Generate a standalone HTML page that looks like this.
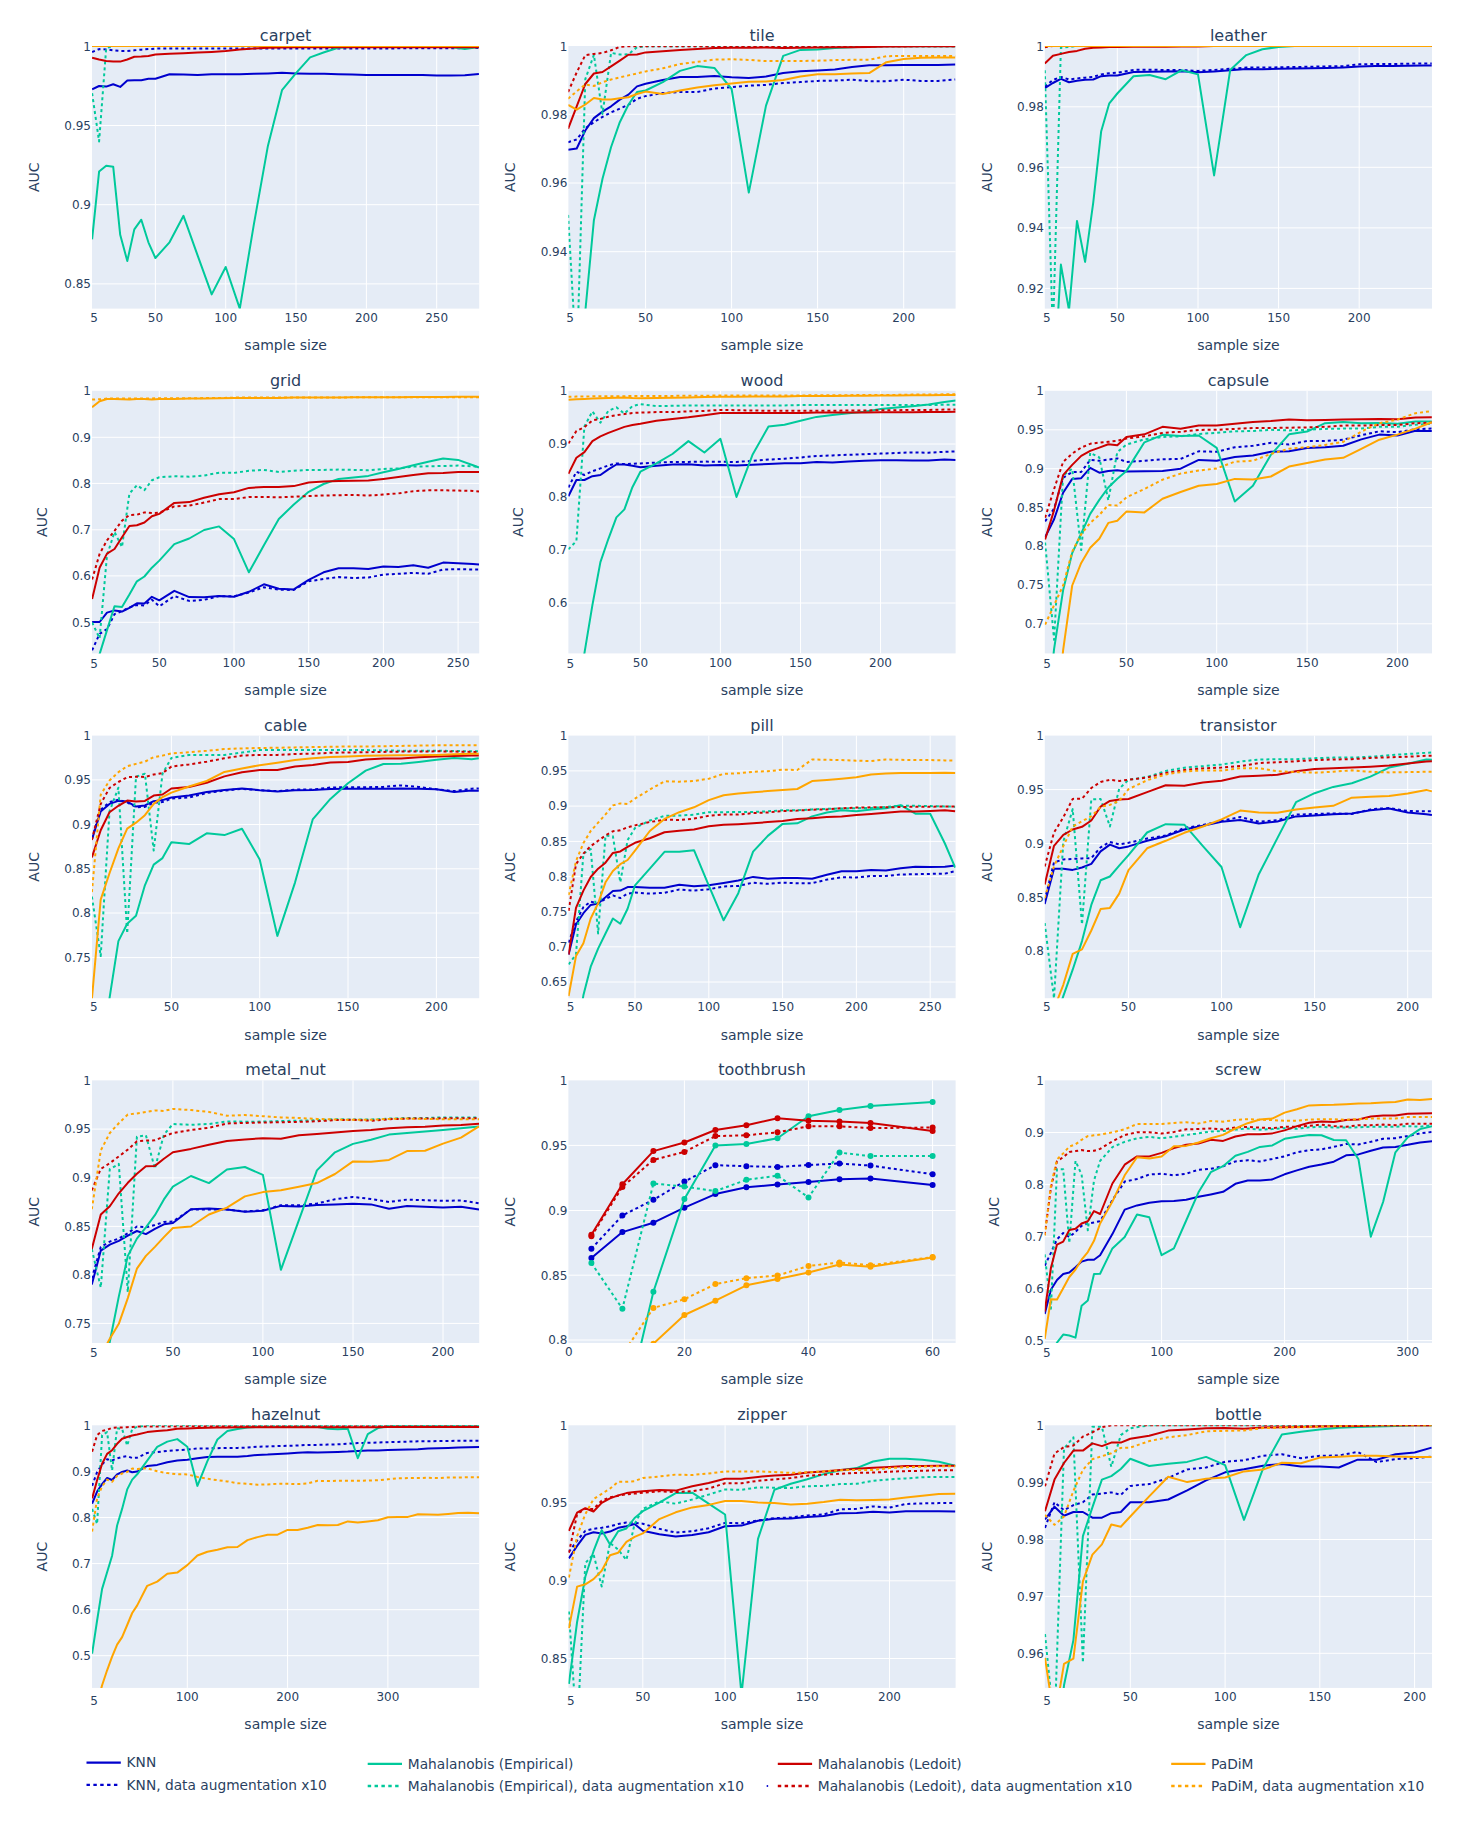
<!DOCTYPE html>
<html><head><meta charset="utf-8"><title>AUC vs sample size</title>
<style>
html,body{margin:0;padding:0;background:#fff;overflow:hidden}
svg{display:block}
text{font-family:"DejaVu Sans","Liberation Sans",sans-serif;fill:#2a3f5f}
.t{font-size:12px}
.a{font-size:14px}
.h{font-size:16px}
.l{font-size:13.75px}
.g{stroke:#fff;stroke-width:1}
.c{fill:none;stroke-width:2;stroke-linejoin:round}
.d{stroke-dasharray:3 3}
</style></head><body>
<svg width="1461" height="1824" viewBox="0 0 1461 1824">
<rect width="1461" height="1824" fill="#fff"/>
<g>
<clipPath id="p0"><rect x="92.0" y="46.0" width="387.2" height="262.6"/></clipPath>
<rect x="92.0" y="46.0" width="387.2" height="262.6" fill="#E5ECF6"/>
<line class="g" x1="155.4" y1="46.0" x2="155.4" y2="308.6"/>
<line class="g" x1="225.7" y1="46.0" x2="225.7" y2="308.6"/>
<line class="g" x1="296.0" y1="46.0" x2="296.0" y2="308.6"/>
<line class="g" x1="366.4" y1="46.0" x2="366.4" y2="308.6"/>
<line class="g" x1="436.7" y1="46.0" x2="436.7" y2="308.6"/>
<line class="g" x1="92.0" y1="125.5" x2="479.2" y2="125.5"/>
<line class="g" x1="92.0" y1="204.7" x2="479.2" y2="204.7"/>
<line class="g" x1="92.0" y1="283.9" x2="479.2" y2="283.9"/>
<g clip-path="url(#p0)">
<polyline class="c" stroke="#0000CD" points="92.1,89.3 99.1,86.0 106.2,86.6 113.2,84.2 120.2,86.9 127.3,80.6 134.3,80.3 141.3,80.3 148.4,78.8 155.4,78.8 169.5,74.3 183.5,74.6 197.6,74.9 211.7,74.3 225.7,74.3 239.8,74.3 253.9,73.7 267.9,73.4 282.0,72.8 296.0,73.4 310.1,73.7 324.2,73.7 338.2,74.3 352.3,74.6 366.4,74.9 380.4,74.9 394.5,74.9 408.6,74.9 422.6,74.9 436.7,75.5 450.8,75.5 464.8,75.2 478.9,74.0"/>
<polyline class="c d" stroke="#0000CD" points="92.1,52.1 99.1,49.1 106.2,49.4 113.2,50.3 120.2,51.0 127.3,50.9 134.3,50.3 141.3,49.7 148.4,49.1 155.4,48.6 169.5,48.5 183.5,48.5 197.6,48.5 211.7,48.5 225.7,48.5 239.8,48.5 253.9,48.5 267.9,48.5 282.0,48.5 296.0,48.5 310.1,48.5 324.2,48.5 338.2,48.4 352.3,48.4 366.4,48.4 380.4,48.4 394.5,48.4 408.6,48.2 422.6,48.2 436.7,48.2 450.8,48.2 464.8,48.1 478.9,48.1"/>
<polyline class="c" stroke="#00C99B" points="92.1,239.3 99.1,171.5 106.2,165.8 113.2,166.7 120.2,234.8 127.3,261.0 134.3,229.4 141.3,219.7 148.4,242.3 155.4,258.0 169.5,242.3 183.5,215.8 197.6,255.3 211.7,294.4 225.7,267.0 239.8,308.6 253.9,224.2 267.9,145.9 282.0,90.2 296.0,73.1 310.1,57.4 324.2,52.3 338.2,47.8 352.3,46.9 366.4,46.0 380.4,46.0 394.5,46.0 408.6,46.0 422.6,46.0 436.7,46.0 450.8,46.9 464.8,49.0 478.9,46.9"/>
<polyline class="c d" stroke="#00C99B" points="92.1,93.2 99.1,141.4 106.2,48.1 113.2,46.0 120.2,46.0 127.3,46.0 134.3,46.0 141.3,46.0 148.4,46.0 155.4,46.0 169.5,46.0 183.5,46.0 197.6,46.0 211.7,46.0 225.7,46.0 239.8,46.0 253.9,46.0 267.9,46.0 282.0,46.0 296.0,46.0 310.1,46.0 324.2,46.0 338.2,46.0 352.3,46.0 366.4,46.0 380.4,46.0 394.5,46.0 408.6,46.0 422.6,46.0 436.7,46.0 450.8,46.0 464.8,46.0 478.9,46.0"/>
<polyline class="c" stroke="#CC0000" points="92.1,57.7 99.1,59.5 106.2,61.0 113.2,61.6 120.2,61.6 127.3,59.5 134.3,56.8 141.3,56.5 148.4,55.9 155.4,54.4 169.5,53.8 183.5,53.2 197.6,52.6 211.7,52.0 225.7,51.1 239.8,49.6 253.9,48.4 267.9,47.8 282.0,47.5 296.0,47.2 310.1,47.2 324.2,47.2 338.2,47.2 352.3,47.2 366.4,47.2 380.4,47.2 394.5,47.2 408.6,47.2 422.6,47.2 436.7,47.2 450.8,47.2 464.8,47.2 478.9,47.2"/>
<polyline class="c d" stroke="#CC0000" points="92.1,46.0 99.1,46.0 106.2,46.0 113.2,46.0 120.2,46.0 127.3,46.0 134.3,46.0 141.3,46.0 148.4,46.0 155.4,46.0 169.5,46.0 183.5,46.0 197.6,46.0 211.7,46.0 225.7,46.0 239.8,46.0 253.9,46.0 267.9,46.0 282.0,46.0 296.0,46.0 310.1,46.0 324.2,46.0 338.2,46.0 352.3,46.0 366.4,46.0 380.4,46.0 394.5,46.0 408.6,46.0 422.6,46.0 436.7,46.0 450.8,46.0 464.8,46.0 478.9,46.0"/>
<polyline class="c" stroke="#FFA500" points="92.1,46.0 99.1,46.0 106.2,46.0 113.2,46.0 120.2,46.0 127.3,46.0 134.3,46.0 141.3,46.0 148.4,46.0 155.4,46.0 169.5,46.0 183.5,46.0 197.6,46.0 211.7,46.0 225.7,46.0 239.8,46.0 253.9,46.0 267.9,46.0 282.0,46.0 296.0,46.0 310.1,46.0 324.2,46.0 338.2,46.0 352.3,46.0 366.4,46.0 380.4,46.0 394.5,46.0 408.6,46.0 422.6,46.0 436.7,46.0 450.8,46.0 464.8,46.0 478.9,46.0"/>
<polyline class="c d" stroke="#FFA500" points="92.1,46.0 99.1,46.0 106.2,46.0 113.2,46.0 120.2,46.0 127.3,46.0 134.3,46.0 141.3,46.0 148.4,46.0 155.4,46.0 169.5,46.0 183.5,46.0 197.6,46.0 211.7,46.0 225.7,46.0 239.8,46.0 253.9,46.0 267.9,46.0 282.0,46.0 296.0,46.0 310.1,46.0 324.2,46.0 338.2,46.0 352.3,46.0 366.4,46.0 380.4,46.0 394.5,46.0 408.6,46.0 422.6,46.0 436.7,46.0 450.8,46.0 464.8,46.0 478.9,46.0"/>
</g>
<text class="t" x="94.1" y="322.3" text-anchor="middle">5</text>
<text class="t" x="155.4" y="322.3" text-anchor="middle">50</text>
<text class="t" x="225.7" y="322.3" text-anchor="middle">100</text>
<text class="t" x="296.0" y="322.3" text-anchor="middle">150</text>
<text class="t" x="366.4" y="322.3" text-anchor="middle">200</text>
<text class="t" x="436.7" y="322.3" text-anchor="middle">250</text>
<text class="t" x="91.0" y="50.5" text-anchor="end">1</text>
<text class="t" x="91.0" y="129.8" text-anchor="end">0.95</text>
<text class="t" x="91.0" y="209.0" text-anchor="end">0.9</text>
<text class="t" x="91.0" y="288.2" text-anchor="end">0.85</text>
<text class="h" x="285.6" y="40.9" text-anchor="middle">carpet</text>
<text class="a" x="285.6" y="349.9" text-anchor="middle">sample size</text>
<text class="a" transform="translate(39.0,177.3) rotate(-90)" text-anchor="middle">AUC</text>
</g>
<g>
<clipPath id="p1"><rect x="568.4" y="46.0" width="387.2" height="262.6"/></clipPath>
<rect x="568.4" y="46.0" width="387.2" height="262.6" fill="#E5ECF6"/>
<line class="g" x1="645.6" y1="46.0" x2="645.6" y2="308.6"/>
<line class="g" x1="731.6" y1="46.0" x2="731.6" y2="308.6"/>
<line class="g" x1="817.6" y1="46.0" x2="817.6" y2="308.6"/>
<line class="g" x1="903.7" y1="46.0" x2="903.7" y2="308.6"/>
<line class="g" x1="568.4" y1="114.3" x2="955.6" y2="114.3"/>
<line class="g" x1="568.4" y1="183.0" x2="955.6" y2="183.0"/>
<line class="g" x1="568.4" y1="251.7" x2="955.6" y2="251.7"/>
<g clip-path="url(#p1)">
<polyline class="c" stroke="#0000CD" points="568.1,149.8 576.7,148.5 585.3,130.5 593.9,118.1 602.5,111.6 611.1,106.3 619.8,99.6 628.4,94.6 637.0,86.4 645.6,83.7 662.8,80.0 680.0,76.9 697.2,76.9 714.4,75.9 731.6,77.2 748.8,78.0 766.0,76.6 783.2,73.1 800.4,71.3 817.6,70.4 834.8,69.5 852.0,67.0 869.2,65.2 886.4,65.2 903.7,64.9 920.9,64.9 938.1,64.9 955.3,64.6"/>
<polyline class="c d" stroke="#0000CD" points="568.1,142.2 576.7,139.5 585.3,128.2 593.9,122.2 602.5,116.9 611.1,112.4 619.8,108.6 628.4,104.8 637.0,98.8 645.6,96.1 662.8,93.1 680.0,92.0 697.2,92.0 714.4,88.5 731.6,87.0 748.8,85.7 766.0,84.9 783.2,83.0 800.4,82.1 817.6,80.9 834.8,80.6 852.0,79.7 869.2,81.2 886.4,81.2 903.7,79.7 920.9,80.9 938.1,80.9 955.3,79.4"/>
<polyline class="c" stroke="#00C99B" points="568.1,552.6 576.7,432.0 585.3,311.4 593.9,220.2 602.5,178.7 611.1,147.0 619.8,122.2 628.4,104.8 637.0,92.0 645.6,90.5 662.8,82.2 680.0,70.9 697.2,66.1 714.4,67.9 731.6,89.0 748.8,192.6 766.0,105.6 783.2,55.9 800.4,49.9 817.6,49.6 834.8,48.1 852.0,47.2 869.2,46.6 886.4,46.3 903.7,46.3 920.9,46.3 938.1,46.3 955.3,46.3"/>
<polyline class="c d" stroke="#00C99B" points="568.1,214.9 576.7,366.4 585.3,79.2 593.9,54.8 602.5,113.9 611.1,52.8 619.8,54.6 628.4,54.3 637.0,47.2 645.6,46.3 662.8,46.3 680.0,46.3 697.2,46.3 714.4,46.3 731.6,46.3 748.8,46.3 766.0,46.3 783.2,46.3 800.4,46.3 817.6,46.3 834.8,46.3 852.0,46.3 869.2,46.3 886.4,46.3 903.7,46.3 920.9,46.3 938.1,46.3 955.3,46.3"/>
<polyline class="c" stroke="#CC0000" points="568.1,128.9 576.7,106.3 585.3,84.0 593.9,73.5 602.5,72.0 611.1,66.4 619.8,60.7 628.4,54.8 637.0,54.5 645.6,52.4 662.8,51.3 680.0,50.1 697.2,49.0 714.4,48.1 731.6,47.8 748.8,47.7 766.0,47.5 783.2,48.1 800.4,47.8 817.6,47.5 834.8,47.2 852.0,47.2 869.2,46.9 886.4,46.6 903.7,46.6 920.9,46.3 938.1,46.3 955.3,46.3"/>
<polyline class="c d" stroke="#CC0000" points="568.1,92.0 576.7,72.4 585.3,55.1 593.9,53.9 602.5,53.0 611.1,50.3 619.8,46.8 628.4,46.3 637.0,46.3 645.6,46.3 662.8,46.3 680.0,46.3 697.2,46.3 714.4,46.3 731.6,46.3 748.8,46.3 766.0,46.3 783.2,46.3 800.4,46.3 817.6,46.3 834.8,46.3 852.0,46.3 869.2,46.3 886.4,46.3 903.7,46.3 920.9,46.3 938.1,46.3 955.3,46.3"/>
<polyline class="c" stroke="#FFA500" points="568.1,104.8 576.7,109.7 585.3,104.5 593.9,98.0 602.5,99.6 611.1,99.6 619.8,98.3 628.4,97.3 637.0,94.0 645.6,91.6 662.8,94.0 680.0,90.5 697.2,87.5 714.4,85.2 731.6,83.4 748.8,81.8 766.0,81.5 783.2,80.0 800.4,76.4 817.6,74.3 834.8,74.3 852.0,73.4 869.2,73.1 886.4,62.2 903.7,58.9 920.9,57.7 938.1,57.4 955.3,57.4"/>
<polyline class="c d" stroke="#FFA500" points="568.1,98.8 576.7,91.3 585.3,84.5 593.9,86.0 602.5,82.2 611.1,79.5 619.8,77.4 628.4,75.4 637.0,73.5 645.6,71.4 662.8,68.3 680.0,64.1 697.2,61.9 714.4,59.6 731.6,59.3 748.8,59.9 766.0,61.1 783.2,61.0 800.4,61.0 817.6,60.7 834.8,60.1 852.0,59.8 869.2,59.8 886.4,56.2 903.7,55.9 920.9,55.9 938.1,55.9 955.3,55.9"/>
</g>
<text class="t" x="570.1" y="322.3" text-anchor="middle">5</text>
<text class="t" x="645.6" y="322.3" text-anchor="middle">50</text>
<text class="t" x="731.6" y="322.3" text-anchor="middle">100</text>
<text class="t" x="817.6" y="322.3" text-anchor="middle">150</text>
<text class="t" x="903.7" y="322.3" text-anchor="middle">200</text>
<text class="t" x="567.4" y="50.5" text-anchor="end">1</text>
<text class="t" x="567.4" y="118.6" text-anchor="end">0.98</text>
<text class="t" x="567.4" y="187.3" text-anchor="end">0.96</text>
<text class="t" x="567.4" y="256.0" text-anchor="end">0.94</text>
<text class="h" x="762.0" y="40.9" text-anchor="middle">tile</text>
<text class="a" x="762.0" y="349.9" text-anchor="middle">sample size</text>
<text class="a" transform="translate(515.4,177.3) rotate(-90)" text-anchor="middle">AUC</text>
</g>
<g>
<clipPath id="p2"><rect x="1044.8" y="46.0" width="387.2" height="262.6"/></clipPath>
<rect x="1044.8" y="46.0" width="387.2" height="262.6" fill="#E5ECF6"/>
<line class="g" x1="1117.3" y1="46.0" x2="1117.3" y2="308.6"/>
<line class="g" x1="1198.0" y1="46.0" x2="1198.0" y2="308.6"/>
<line class="g" x1="1278.6" y1="46.0" x2="1278.6" y2="308.6"/>
<line class="g" x1="1359.2" y1="46.0" x2="1359.2" y2="308.6"/>
<line class="g" x1="1044.8" y1="106.8" x2="1432.0" y2="106.8"/>
<line class="g" x1="1044.8" y1="167.3" x2="1432.0" y2="167.3"/>
<line class="g" x1="1044.8" y1="227.9" x2="1432.0" y2="227.9"/>
<line class="g" x1="1044.8" y1="288.4" x2="1432.0" y2="288.4"/>
<g clip-path="url(#p2)">
<polyline class="c" stroke="#0000CD" points="1044.8,88.2 1052.9,83.0 1060.9,78.9 1069.0,82.2 1077.0,80.7 1085.1,79.7 1093.2,79.5 1101.2,76.2 1109.3,75.4 1117.3,75.6 1133.5,72.1 1149.6,71.7 1165.7,71.4 1181.8,71.2 1198.0,72.3 1214.1,71.4 1230.2,70.2 1246.3,69.1 1262.4,69.2 1278.6,68.8 1294.7,68.5 1310.8,68.2 1326.9,67.9 1343.1,67.6 1359.2,66.4 1375.3,66.1 1391.4,66.1 1407.5,65.8 1423.7,65.5 1431.7,65.5"/>
<polyline class="c d" stroke="#0000CD" points="1044.8,86.7 1052.9,80.0 1060.9,76.9 1069.0,79.5 1077.0,78.4 1085.1,77.7 1093.2,76.9 1101.2,74.4 1109.3,73.2 1117.3,72.7 1133.5,69.9 1149.6,69.7 1165.7,70.0 1181.8,70.0 1198.0,70.9 1214.1,69.9 1230.2,68.8 1246.3,67.6 1262.4,67.6 1278.6,67.3 1294.7,67.0 1310.8,66.7 1326.9,66.4 1343.1,66.1 1359.2,64.3 1375.3,64.0 1391.4,64.0 1407.5,63.7 1423.7,63.4 1431.7,63.4"/>
<polyline class="c" stroke="#00C99B" points="1044.8,537.5 1052.9,403.0 1060.9,264.6 1069.0,310.2 1077.0,220.9 1085.1,261.9 1093.2,202.8 1101.2,131.2 1109.3,103.3 1117.3,93.5 1133.5,76.2 1149.6,75.0 1165.7,79.2 1181.8,70.2 1198.0,74.4 1214.1,175.4 1230.2,69.9 1246.3,55.1 1262.4,49.3 1278.6,46.9 1294.7,46.0 1310.8,46.0 1326.9,46.0 1343.1,46.0 1359.2,46.0 1375.3,46.0 1391.4,46.0 1407.5,46.0 1423.7,46.0 1431.7,46.0"/>
<polyline class="c d" stroke="#00C99B" points="1044.8,70.2 1052.9,335.5 1060.9,47.5 1069.0,46.9 1077.0,46.0 1085.1,46.0 1093.2,46.0 1101.2,46.0 1109.3,46.0 1117.3,46.0 1133.5,46.0 1149.6,46.0 1165.7,46.0 1181.8,46.0 1198.0,46.0 1214.1,46.0 1230.2,46.0 1246.3,46.0 1262.4,46.0 1278.6,46.0 1294.7,46.0 1310.8,46.0 1326.9,46.0 1343.1,46.0 1359.2,46.0 1375.3,46.0 1391.4,46.0 1407.5,46.0 1423.7,46.0 1431.7,46.0"/>
<polyline class="c" stroke="#CC0000" points="1044.8,63.4 1052.9,55.8 1060.9,53.9 1069.0,52.1 1077.0,50.9 1085.1,48.7 1093.2,47.8 1101.2,47.4 1109.3,47.1 1117.3,46.9 1133.5,46.8 1149.6,46.8 1165.7,46.8 1181.8,46.6 1198.0,46.5 1214.1,46.0 1230.2,46.0 1246.3,46.0 1262.4,46.0 1278.6,46.0 1294.7,46.0 1310.8,46.0 1326.9,46.0 1343.1,46.0 1359.2,46.0 1375.3,46.0 1391.4,46.0 1407.5,46.0 1423.7,46.0 1431.7,46.0"/>
<polyline class="c d" stroke="#CC0000" points="1044.8,47.2 1052.9,46.0 1060.9,46.0 1069.0,46.0 1077.0,46.0 1085.1,46.0 1093.2,46.0 1101.2,46.0 1109.3,46.0 1117.3,46.0 1133.5,46.0 1149.6,46.0 1165.7,46.0 1181.8,46.0 1198.0,46.0 1214.1,46.0 1230.2,46.0 1246.3,46.0 1262.4,46.0 1278.6,46.0 1294.7,46.0 1310.8,46.0 1326.9,46.0 1343.1,46.0 1359.2,46.0 1375.3,46.0 1391.4,46.0 1407.5,46.0 1423.7,46.0 1431.7,46.0"/>
<polyline class="c" stroke="#FFA500" points="1044.8,46.0 1052.9,46.0 1060.9,46.0 1069.0,46.0 1077.0,46.0 1085.1,46.0 1093.2,46.0 1101.2,46.0 1109.3,46.0 1117.3,46.0 1133.5,46.0 1149.6,46.0 1165.7,46.0 1181.8,46.0 1198.0,46.0 1214.1,46.0 1230.2,46.0 1246.3,46.0 1262.4,46.0 1278.6,46.0 1294.7,46.0 1310.8,46.0 1326.9,46.0 1343.1,46.0 1359.2,46.0 1375.3,46.0 1391.4,46.0 1407.5,46.0 1423.7,46.0 1431.7,46.0"/>
<polyline class="c d" stroke="#FFA500" points="1044.8,46.0 1052.9,46.0 1060.9,46.0 1069.0,46.0 1077.0,46.0 1085.1,46.0 1093.2,46.0 1101.2,46.0 1109.3,46.0 1117.3,46.0 1133.5,46.0 1149.6,46.0 1165.7,46.0 1181.8,46.0 1198.0,46.0 1214.1,46.0 1230.2,46.0 1246.3,46.0 1262.4,46.0 1278.6,46.0 1294.7,46.0 1310.8,46.0 1326.9,46.0 1343.1,46.0 1359.2,46.0 1375.3,46.0 1391.4,46.0 1407.5,46.0 1423.7,46.0 1431.7,46.0"/>
</g>
<text class="t" x="1046.8" y="322.3" text-anchor="middle">5</text>
<text class="t" x="1117.3" y="322.3" text-anchor="middle">50</text>
<text class="t" x="1198.0" y="322.3" text-anchor="middle">100</text>
<text class="t" x="1278.6" y="322.3" text-anchor="middle">150</text>
<text class="t" x="1359.2" y="322.3" text-anchor="middle">200</text>
<text class="t" x="1043.8" y="50.5" text-anchor="end">1</text>
<text class="t" x="1043.8" y="111.1" text-anchor="end">0.98</text>
<text class="t" x="1043.8" y="171.6" text-anchor="end">0.96</text>
<text class="t" x="1043.8" y="232.2" text-anchor="end">0.94</text>
<text class="t" x="1043.8" y="292.7" text-anchor="end">0.92</text>
<text class="h" x="1238.4" y="40.9" text-anchor="middle">leather</text>
<text class="a" x="1238.4" y="349.9" text-anchor="middle">sample size</text>
<text class="a" transform="translate(991.8,177.3) rotate(-90)" text-anchor="middle">AUC</text>
</g>
<g>
<clipPath id="p3"><rect x="92.0" y="390.8" width="387.2" height="262.6"/></clipPath>
<rect x="92.0" y="390.8" width="387.2" height="262.6" fill="#E5ECF6"/>
<line class="g" x1="159.3" y1="390.8" x2="159.3" y2="653.4"/>
<line class="g" x1="234.0" y1="390.8" x2="234.0" y2="653.4"/>
<line class="g" x1="308.7" y1="390.8" x2="308.7" y2="653.4"/>
<line class="g" x1="383.4" y1="390.8" x2="383.4" y2="653.4"/>
<line class="g" x1="458.1" y1="390.8" x2="458.1" y2="653.4"/>
<line class="g" x1="92.0" y1="437.3" x2="479.2" y2="437.3"/>
<line class="g" x1="92.0" y1="483.4" x2="479.2" y2="483.4"/>
<line class="g" x1="92.0" y1="529.8" x2="479.2" y2="529.8"/>
<line class="g" x1="92.0" y1="575.9" x2="479.2" y2="575.9"/>
<line class="g" x1="92.0" y1="622.3" x2="479.2" y2="622.3"/>
<g clip-path="url(#p3)">
<polyline class="c" stroke="#0000CD" points="92.1,622.0 99.6,622.0 107.0,612.6 114.5,610.4 122.0,611.6 129.4,607.8 136.9,603.3 144.4,603.6 151.9,596.8 159.3,600.3 174.3,590.8 189.2,597.1 204.1,597.3 219.1,596.1 234.0,596.7 248.9,591.8 263.9,584.3 278.8,588.8 293.8,589.4 308.7,579.8 323.6,572.3 338.6,568.3 353.5,568.3 368.4,568.9 383.4,566.5 398.3,567.1 413.3,565.3 428.2,567.7 443.1,562.6 458.1,563.2 473.0,564.1 479.0,564.4"/>
<polyline class="c d" stroke="#0000CD" points="92.1,650.3 99.6,633.8 107.0,629.2 114.5,614.2 122.0,611.1 129.4,607.4 136.9,605.1 144.4,605.4 151.9,599.8 159.3,606.3 174.3,596.1 189.2,600.9 204.1,599.8 219.1,596.1 234.0,596.4 248.9,592.4 263.9,587.3 278.8,589.7 293.8,590.0 308.7,581.3 323.6,578.9 338.6,577.1 353.5,578.0 368.4,577.4 383.4,574.7 398.3,573.8 413.3,572.9 428.2,573.8 443.1,569.5 458.1,569.2 473.0,569.5 479.0,569.5"/>
<polyline class="c" stroke="#00C99B" points="92.1,686.5 99.6,654.1 107.0,630.1 114.5,606.3 122.0,606.9 129.4,594.6 136.9,581.3 144.4,576.5 151.9,567.7 159.3,560.6 174.3,544.1 189.2,538.5 204.1,530.0 219.1,526.4 234.0,539.1 248.9,572.3 263.9,545.2 278.8,519.0 293.8,504.5 308.7,491.8 323.6,484.0 338.6,478.9 353.5,477.4 368.4,475.9 383.4,472.3 398.3,469.0 413.3,465.3 428.2,461.7 443.1,458.4 458.1,459.9 473.0,465.3 479.0,467.5"/>
<polyline class="c d" stroke="#00C99B" points="92.1,622.4 99.6,638.3 107.0,555.4 114.5,532.0 122.0,547.1 129.4,493.5 136.9,485.3 144.4,490.2 151.9,480.3 159.3,477.3 174.3,476.2 189.2,476.7 204.1,475.5 219.1,472.7 234.0,472.9 248.9,470.8 263.9,469.9 278.8,472.0 293.8,470.8 308.7,469.9 323.6,469.9 338.6,469.6 353.5,469.9 368.4,470.2 383.4,469.0 398.3,468.4 413.3,466.6 428.2,466.3 443.1,466.0 458.1,465.6 473.0,466.3 479.0,466.9"/>
<polyline class="c" stroke="#CC0000" points="92.1,599.1 99.6,567.7 107.0,553.6 114.5,549.0 122.0,537.3 129.4,526.0 136.9,525.2 144.4,522.5 151.9,516.2 159.3,513.9 174.3,502.9 189.2,502.1 204.1,497.8 219.1,494.3 234.0,492.2 248.9,487.9 263.9,487.0 278.8,487.0 293.8,486.1 308.7,482.5 323.6,481.6 338.6,481.0 353.5,480.7 368.4,480.4 383.4,478.9 398.3,477.1 413.3,475.0 428.2,473.2 443.1,472.9 458.1,472.0 473.0,472.0 479.0,472.0"/>
<polyline class="c d" stroke="#CC0000" points="92.1,579.5 99.6,553.9 107.0,540.3 114.5,530.9 122.0,520.7 129.4,515.0 136.9,514.7 144.4,512.4 151.9,513.1 159.3,512.8 174.3,506.4 189.2,505.6 204.1,502.6 219.1,499.1 234.0,499.1 248.9,497.0 263.9,497.0 278.8,497.3 293.8,496.7 308.7,496.1 323.6,495.5 338.6,495.2 353.5,494.9 368.4,495.5 383.4,494.6 398.3,493.4 413.3,491.2 428.2,490.3 443.1,490.3 458.1,490.6 473.0,490.9 479.0,491.5"/>
<polyline class="c" stroke="#FFA500" points="92.1,407.3 99.6,401.3 107.0,399.0 114.5,399.0 122.0,399.3 129.4,399.6 136.9,399.0 144.4,399.0 151.9,399.5 159.3,399.0 174.3,398.9 189.2,398.6 204.1,398.4 219.1,398.3 234.0,397.9 248.9,397.9 263.9,397.9 278.8,397.9 293.8,397.6 308.7,397.6 323.6,397.6 338.6,397.6 353.5,397.3 368.4,397.3 383.4,397.3 398.3,397.3 413.3,397.0 428.2,397.0 443.1,397.0 458.1,396.7 473.0,396.7 479.0,396.7"/>
<polyline class="c d" stroke="#FFA500" points="92.1,399.6 99.6,399.3 107.0,398.6 114.5,398.6 122.0,398.6 129.4,398.4 136.9,398.4 144.4,398.4 151.9,398.4 159.3,398.3 174.3,398.3 189.2,398.3 204.1,398.1 219.1,398.1 234.0,397.6 248.9,397.6 263.9,397.6 278.8,397.6 293.8,397.6 308.7,397.6 323.6,397.6 338.6,397.6 353.5,397.3 368.4,397.3 383.4,397.3 398.3,397.3 413.3,397.3 428.2,397.3 443.1,397.3 458.1,397.3 473.0,397.3 479.0,397.3"/>
</g>
<text class="t" x="94.1" y="667.9" text-anchor="middle">5</text>
<text class="t" x="159.3" y="666.9" text-anchor="middle">50</text>
<text class="t" x="234.0" y="666.9" text-anchor="middle">100</text>
<text class="t" x="308.7" y="666.9" text-anchor="middle">150</text>
<text class="t" x="383.4" y="666.9" text-anchor="middle">200</text>
<text class="t" x="458.1" y="666.9" text-anchor="middle">250</text>
<text class="t" x="91.0" y="395.3" text-anchor="end">1</text>
<text class="t" x="91.0" y="441.6" text-anchor="end">0.9</text>
<text class="t" x="91.0" y="487.7" text-anchor="end">0.8</text>
<text class="t" x="91.0" y="534.1" text-anchor="end">0.7</text>
<text class="t" x="91.0" y="580.2" text-anchor="end">0.6</text>
<text class="t" x="91.0" y="626.6" text-anchor="end">0.5</text>
<text class="h" x="285.6" y="386.0" text-anchor="middle">grid</text>
<text class="a" x="285.6" y="694.7" text-anchor="middle">sample size</text>
<text class="a" transform="translate(46.6,522.1) rotate(-90)" text-anchor="middle">AUC</text>
</g>
<g>
<clipPath id="p4"><rect x="568.4" y="390.8" width="387.2" height="262.6"/></clipPath>
<rect x="568.4" y="390.8" width="387.2" height="262.6" fill="#E5ECF6"/>
<line class="g" x1="640.4" y1="390.8" x2="640.4" y2="653.4"/>
<line class="g" x1="720.4" y1="390.8" x2="720.4" y2="653.4"/>
<line class="g" x1="800.5" y1="390.8" x2="800.5" y2="653.4"/>
<line class="g" x1="880.5" y1="390.8" x2="880.5" y2="653.4"/>
<line class="g" x1="568.4" y1="444.0" x2="955.6" y2="444.0"/>
<line class="g" x1="568.4" y1="497.0" x2="955.6" y2="497.0"/>
<line class="g" x1="568.4" y1="550.0" x2="955.6" y2="550.0"/>
<line class="g" x1="568.4" y1="603.0" x2="955.6" y2="603.0"/>
<g clip-path="url(#p4)">
<polyline class="c" stroke="#0000CD" points="568.4,496.3 576.4,480.0 584.4,480.0 592.4,476.2 600.4,475.0 608.4,469.4 616.4,464.5 624.4,464.6 632.4,465.7 640.4,467.2 656.4,465.7 672.4,464.6 688.4,464.3 704.4,465.4 720.4,465.0 736.5,465.6 752.5,464.7 768.5,464.1 784.5,463.2 800.5,463.2 816.5,462.0 832.5,462.6 848.5,461.4 864.5,460.8 880.5,460.2 896.5,460.2 912.5,460.5 928.5,460.5 944.5,459.6 955.7,459.9"/>
<polyline class="c d" stroke="#0000CD" points="568.4,487.5 576.4,471.7 584.4,475.0 592.4,471.2 600.4,468.4 608.4,465.4 616.4,463.4 624.4,464.1 632.4,463.7 640.4,463.4 656.4,462.6 672.4,461.9 688.4,461.9 704.4,461.6 720.4,461.7 736.5,462.0 752.5,460.8 768.5,459.6 784.5,458.7 800.5,457.5 816.5,456.0 832.5,455.4 848.5,454.8 864.5,454.2 880.5,453.6 896.5,453.0 912.5,452.4 928.5,452.7 944.5,451.8 955.7,451.5"/>
<polyline class="c" stroke="#00C99B" points="568.4,761.9 576.4,705.4 584.4,653.4 592.4,605.1 600.4,562.1 608.4,538.8 616.4,517.4 624.4,509.4 632.4,487.2 640.4,471.7 656.4,463.4 672.4,454.0 688.4,441.1 704.4,452.5 720.4,438.8 736.5,497.0 752.5,454.8 768.5,426.5 784.5,424.7 800.5,420.8 816.5,416.9 832.5,415.1 848.5,413.2 864.5,411.7 880.5,409.0 896.5,407.5 912.5,406.3 928.5,404.5 944.5,402.1 955.7,400.6"/>
<polyline class="c d" stroke="#00C99B" points="568.4,549.3 576.4,541.0 584.4,426.5 592.4,411.4 600.4,422.7 608.4,410.9 616.4,407.3 624.4,413.6 632.4,406.1 640.4,404.1 656.4,406.1 672.4,405.8 688.4,405.5 704.4,405.4 720.4,405.4 736.5,405.4 752.5,405.4 768.5,405.4 784.5,405.4 800.5,405.1 816.5,405.1 832.5,405.1 848.5,405.1 864.5,405.1 880.5,405.1 896.5,405.1 912.5,405.1 928.5,405.1 944.5,404.8 955.7,404.8"/>
<polyline class="c" stroke="#CC0000" points="568.4,473.9 576.4,457.7 584.4,452.1 592.4,441.1 600.4,436.3 608.4,432.9 616.4,429.9 624.4,426.9 632.4,425.0 640.4,423.7 656.4,420.7 672.4,418.9 688.4,417.3 704.4,415.2 720.4,412.9 736.5,412.9 752.5,412.9 768.5,412.9 784.5,412.9 800.5,412.9 816.5,412.6 832.5,412.6 848.5,412.6 864.5,412.6 880.5,412.3 896.5,412.3 912.5,412.3 928.5,412.0 944.5,412.0 955.7,411.7"/>
<polyline class="c d" stroke="#CC0000" points="568.4,443.5 576.4,431.0 584.4,427.2 592.4,420.4 600.4,418.9 608.4,416.7 616.4,415.2 624.4,414.1 632.4,413.0 640.4,412.6 656.4,412.1 672.4,412.1 688.4,411.4 704.4,410.9 720.4,409.9 736.5,410.2 752.5,410.5 768.5,410.8 784.5,410.8 800.5,410.8 816.5,410.8 832.5,410.8 848.5,410.5 864.5,410.5 880.5,410.2 896.5,410.2 912.5,409.9 928.5,409.9 944.5,409.6 955.7,409.6"/>
<polyline class="c" stroke="#FFA500" points="568.4,399.8 576.4,399.2 584.4,398.9 592.4,398.6 600.4,398.3 608.4,398.0 616.4,397.7 624.4,397.4 632.4,398.1 640.4,398.3 656.4,398.0 672.4,397.8 688.4,397.5 704.4,397.1 720.4,396.7 736.5,396.7 752.5,396.4 768.5,396.4 784.5,396.4 800.5,396.1 816.5,396.1 832.5,396.1 848.5,395.8 864.5,395.8 880.5,395.5 896.5,395.5 912.5,395.2 928.5,395.2 944.5,394.9 955.7,394.9"/>
<polyline class="c d" stroke="#FFA500" points="568.4,396.8 576.4,396.6 584.4,396.5 592.4,396.3 600.4,396.3 608.4,396.2 616.4,396.2 624.4,396.2 632.4,396.0 640.4,396.0 656.4,395.9 672.4,395.9 688.4,395.7 704.4,395.7 720.4,395.5 736.5,395.5 752.5,395.5 768.5,395.5 784.5,395.5 800.5,395.5 816.5,395.2 832.5,395.2 848.5,395.2 864.5,394.9 880.5,394.9 896.5,394.9 912.5,394.6 928.5,394.6 944.5,394.3 955.7,394.3"/>
</g>
<text class="t" x="570.4" y="667.9" text-anchor="middle">5</text>
<text class="t" x="640.4" y="666.9" text-anchor="middle">50</text>
<text class="t" x="720.4" y="666.9" text-anchor="middle">100</text>
<text class="t" x="800.5" y="666.9" text-anchor="middle">150</text>
<text class="t" x="880.5" y="666.9" text-anchor="middle">200</text>
<text class="t" x="567.4" y="395.3" text-anchor="end">1</text>
<text class="t" x="567.4" y="448.3" text-anchor="end">0.9</text>
<text class="t" x="567.4" y="501.3" text-anchor="end">0.8</text>
<text class="t" x="567.4" y="554.3" text-anchor="end">0.7</text>
<text class="t" x="567.4" y="607.3" text-anchor="end">0.6</text>
<text class="h" x="762.0" y="386.0" text-anchor="middle">wood</text>
<text class="a" x="762.0" y="694.7" text-anchor="middle">sample size</text>
<text class="a" transform="translate(523.0,522.1) rotate(-90)" text-anchor="middle">AUC</text>
</g>
<g>
<clipPath id="p5"><rect x="1044.8" y="390.8" width="387.2" height="262.6"/></clipPath>
<rect x="1044.8" y="390.8" width="387.2" height="262.6" fill="#E5ECF6"/>
<line class="g" x1="1126.4" y1="390.8" x2="1126.4" y2="653.4"/>
<line class="g" x1="1216.7" y1="390.8" x2="1216.7" y2="653.4"/>
<line class="g" x1="1307.1" y1="390.8" x2="1307.1" y2="653.4"/>
<line class="g" x1="1397.4" y1="390.8" x2="1397.4" y2="653.4"/>
<line class="g" x1="1044.8" y1="429.8" x2="1432.0" y2="429.8"/>
<line class="g" x1="1044.8" y1="468.7" x2="1432.0" y2="468.7"/>
<line class="g" x1="1044.8" y1="507.5" x2="1432.0" y2="507.5"/>
<line class="g" x1="1044.8" y1="546.1" x2="1432.0" y2="546.1"/>
<line class="g" x1="1044.8" y1="584.9" x2="1432.0" y2="584.9"/>
<line class="g" x1="1044.8" y1="623.8" x2="1432.0" y2="623.8"/>
<g clip-path="url(#p5)">
<polyline class="c" stroke="#0000CD" points="1045.1,537.3 1054.1,519.2 1063.1,492.8 1072.2,478.9 1081.2,478.2 1090.2,467.9 1099.3,472.7 1108.3,470.9 1117.3,470.2 1126.4,471.4 1144.4,471.2 1162.5,470.9 1180.6,468.7 1198.7,459.9 1216.7,460.8 1234.8,456.9 1252.9,455.4 1270.9,451.8 1289.0,451.2 1307.1,447.9 1325.1,447.3 1343.2,445.8 1361.3,439.4 1379.4,434.6 1397.4,435.5 1415.5,430.7 1431.8,431.0"/>
<polyline class="c d" stroke="#0000CD" points="1045.1,521.4 1054.1,508.6 1063.1,477.7 1072.2,472.1 1081.2,472.0 1090.2,459.9 1099.3,460.8 1108.3,459.6 1117.3,458.4 1126.4,461.9 1144.4,460.8 1162.5,459.3 1180.6,458.9 1198.7,451.3 1216.7,451.8 1234.8,447.3 1252.9,445.8 1270.9,442.8 1289.0,444.6 1307.1,441.0 1325.1,441.0 1343.2,439.7 1361.3,435.2 1379.4,431.3 1397.4,432.2 1415.5,429.2 1431.8,428.6"/>
<polyline class="c" stroke="#00C99B" points="1045.1,731.8 1054.1,648.8 1063.1,590.3 1072.2,553.1 1081.2,533.5 1090.2,513.9 1099.3,499.9 1108.3,487.5 1117.3,478.8 1126.4,470.9 1144.4,442.3 1162.5,434.8 1180.6,436.0 1198.7,435.5 1216.7,447.9 1234.8,501.5 1252.9,485.8 1270.9,454.8 1289.0,434.3 1307.1,431.6 1325.1,423.2 1343.2,422.0 1361.3,423.2 1379.4,422.9 1397.4,423.8 1415.5,421.4 1431.8,421.4"/>
<polyline class="c d" stroke="#00C99B" points="1045.1,542.5 1054.1,639.8 1063.1,475.5 1072.2,468.7 1081.2,550.1 1090.2,452.8 1099.3,457.4 1108.3,500.3 1117.3,452.1 1126.4,444.6 1144.4,439.3 1162.5,437.0 1180.6,436.3 1198.7,434.0 1216.7,432.8 1234.8,431.3 1252.9,431.0 1270.9,429.8 1289.0,430.4 1307.1,429.8 1325.1,428.9 1343.2,428.6 1361.3,428.6 1379.4,426.8 1397.4,426.8 1415.5,424.7 1431.8,423.8"/>
<polyline class="c" stroke="#CC0000" points="1045.1,539.5 1054.1,510.1 1063.1,475.2 1072.2,464.9 1081.2,455.9 1090.2,450.9 1099.3,447.6 1108.3,444.2 1117.3,445.3 1126.4,437.0 1144.4,434.3 1162.5,426.8 1180.6,428.7 1198.7,425.4 1216.7,425.6 1234.8,423.8 1252.9,422.0 1270.9,421.1 1289.0,419.6 1307.1,420.2 1325.1,419.9 1343.2,419.6 1361.3,419.3 1379.4,419.0 1397.4,419.3 1415.5,417.5 1431.8,417.2"/>
<polyline class="c d" stroke="#CC0000" points="1045.1,517.7 1054.1,489.0 1063.1,461.9 1072.2,453.6 1081.2,447.6 1090.2,443.8 1099.3,442.6 1108.3,441.8 1117.3,440.8 1126.4,438.5 1144.4,436.3 1162.5,432.9 1180.6,431.7 1198.7,429.9 1216.7,429.8 1234.8,428.9 1252.9,428.0 1270.9,428.0 1289.0,427.7 1307.1,427.4 1325.1,426.8 1343.2,425.6 1361.3,425.6 1379.4,425.0 1397.4,425.0 1415.5,423.2 1431.8,422.6"/>
<polyline class="c" stroke="#FFA500" points="1045.1,867.4 1054.1,746.8 1063.1,650.3 1072.2,585.5 1081.2,562.9 1090.2,547.8 1099.3,538.8 1108.3,522.9 1117.3,520.7 1126.4,511.6 1144.4,512.4 1162.5,498.8 1180.6,492.0 1198.7,485.7 1216.7,484.0 1234.8,478.9 1252.9,479.5 1270.9,476.5 1289.0,466.6 1307.1,462.9 1325.1,459.6 1343.2,457.8 1361.3,448.8 1379.4,439.7 1397.4,434.6 1415.5,428.6 1431.8,422.3"/>
<polyline class="c d" stroke="#FFA500" points="1045.1,624.7 1054.1,605.1 1063.1,585.5 1072.2,551.6 1081.2,534.3 1090.2,522.9 1099.3,515.0 1108.3,504.9 1117.3,505.6 1126.4,497.3 1144.4,489.0 1162.5,479.7 1180.6,473.6 1198.7,470.6 1216.7,468.4 1234.8,461.7 1252.9,460.8 1270.9,453.9 1289.0,448.8 1307.1,447.3 1325.1,444.9 1343.2,441.9 1361.3,431.6 1379.4,423.2 1397.4,419.6 1415.5,413.2 1431.8,411.1"/>
</g>
<text class="t" x="1047.1" y="667.9" text-anchor="middle">5</text>
<text class="t" x="1126.4" y="666.9" text-anchor="middle">50</text>
<text class="t" x="1216.7" y="666.9" text-anchor="middle">100</text>
<text class="t" x="1307.1" y="666.9" text-anchor="middle">150</text>
<text class="t" x="1397.4" y="666.9" text-anchor="middle">200</text>
<text class="t" x="1043.8" y="395.3" text-anchor="end">1</text>
<text class="t" x="1043.8" y="434.1" text-anchor="end">0.95</text>
<text class="t" x="1043.8" y="473.0" text-anchor="end">0.9</text>
<text class="t" x="1043.8" y="511.8" text-anchor="end">0.85</text>
<text class="t" x="1043.8" y="550.4" text-anchor="end">0.8</text>
<text class="t" x="1043.8" y="589.2" text-anchor="end">0.75</text>
<text class="t" x="1043.8" y="628.1" text-anchor="end">0.7</text>
<text class="h" x="1238.4" y="386.0" text-anchor="middle">capsule</text>
<text class="a" x="1238.4" y="694.7" text-anchor="middle">sample size</text>
<text class="a" transform="translate(991.8,522.1) rotate(-90)" text-anchor="middle">AUC</text>
</g>
<g>
<clipPath id="p6"><rect x="92.0" y="735.6" width="387.2" height="262.6"/></clipPath>
<rect x="92.0" y="735.6" width="387.2" height="262.6" fill="#E5ECF6"/>
<line class="g" x1="171.4" y1="735.6" x2="171.4" y2="998.2"/>
<line class="g" x1="259.7" y1="735.6" x2="259.7" y2="998.2"/>
<line class="g" x1="348.0" y1="735.6" x2="348.0" y2="998.2"/>
<line class="g" x1="436.4" y1="735.6" x2="436.4" y2="998.2"/>
<line class="g" x1="92.0" y1="779.9" x2="479.2" y2="779.9"/>
<line class="g" x1="92.0" y1="824.5" x2="479.2" y2="824.5"/>
<line class="g" x1="92.0" y1="868.8" x2="479.2" y2="868.8"/>
<line class="g" x1="92.0" y1="913.0" x2="479.2" y2="913.0"/>
<line class="g" x1="92.0" y1="957.6" x2="479.2" y2="957.6"/>
<g clip-path="url(#p6)">
<polyline class="c" stroke="#0000CD" points="91.9,839.8 100.7,811.4 109.5,803.9 118.4,800.9 127.2,801.6 136.0,806.6 144.9,805.4 153.7,801.2 162.5,800.1 171.4,797.5 189.0,795.6 206.7,792.1 224.4,790.0 242.0,788.5 259.7,790.2 277.4,791.4 295.0,790.2 312.7,789.9 330.4,789.0 348.0,788.7 365.7,788.7 383.4,788.7 401.1,788.4 418.7,788.7 436.4,789.3 454.1,792.0 471.7,790.5 478.8,790.8"/>
<polyline class="c d" stroke="#0000CD" points="91.9,838.5 100.7,809.9 109.5,802.1 118.4,799.7 127.2,802.4 136.0,807.2 144.9,806.9 153.7,802.7 162.5,802.1 171.4,798.6 189.0,797.5 206.7,793.0 224.4,790.6 242.0,788.8 259.7,790.2 277.4,791.1 295.0,789.6 312.7,789.6 330.4,787.5 348.0,787.2 365.7,787.2 383.4,786.9 401.1,785.4 418.7,786.9 436.4,789.3 454.1,791.1 471.7,788.7 478.8,788.4"/>
<polyline class="c" stroke="#00C99B" points="91.9,1227.5 100.7,1106.9 109.5,998.4 118.4,941.1 127.2,923.7 136.0,915.7 144.9,885.3 153.7,864.6 162.5,858.1 171.4,842.3 189.0,844.1 206.7,833.3 224.4,835.1 242.0,828.7 259.7,859.4 277.4,935.9 295.0,882.6 312.7,819.4 330.4,798.9 348.0,783.2 365.7,770.6 383.4,764.0 401.1,763.7 418.7,761.9 436.4,759.8 454.1,757.9 471.7,759.2 478.8,758.2"/>
<polyline class="c d" stroke="#00C99B" points="91.9,896.6 100.7,956.1 109.5,811.4 118.4,787.7 127.2,933.5 136.0,776.7 144.9,773.7 153.7,850.6 162.5,773.7 171.4,757.9 189.0,754.9 206.7,754.9 224.4,754.9 242.0,752.6 259.7,750.1 277.4,750.1 295.0,750.1 312.7,750.1 330.4,750.1 348.0,750.1 365.7,750.1 383.4,750.4 401.1,750.7 418.7,750.7 436.4,750.7 454.1,751.0 471.7,751.3 478.8,751.3"/>
<polyline class="c" stroke="#CC0000" points="91.9,857.4 100.7,830.3 109.5,812.2 118.4,805.8 127.2,800.6 136.0,801.6 144.9,800.9 153.7,795.6 162.5,794.5 171.4,788.5 189.0,787.0 206.7,782.8 224.4,776.4 242.0,772.2 259.7,770.0 277.4,770.0 295.0,766.4 312.7,764.9 330.4,762.5 348.0,761.9 365.7,759.5 383.4,758.5 401.1,758.5 418.7,757.3 436.4,756.4 454.1,756.1 471.7,755.5 478.8,755.5"/>
<polyline class="c d" stroke="#CC0000" points="91.9,840.1 100.7,803.9 109.5,788.0 118.4,782.0 127.2,777.2 136.0,776.7 144.9,777.0 153.7,774.5 162.5,773.0 171.4,766.6 189.0,764.4 206.7,761.7 224.4,758.3 242.0,755.6 259.7,754.9 277.4,754.9 295.0,754.0 312.7,753.7 330.4,752.8 348.0,752.5 365.7,752.2 383.4,751.9 401.1,751.6 418.7,751.6 436.4,751.3 454.1,751.6 471.7,751.9 478.8,751.9"/>
<polyline class="c" stroke="#FFA500" points="91.9,999.1 100.7,899.6 109.5,873.2 118.4,848.3 127.2,828.7 136.0,822.7 144.9,815.2 153.7,803.9 162.5,797.1 171.4,792.6 189.0,786.5 206.7,781.0 224.4,771.9 242.0,768.4 259.7,765.2 277.4,762.8 295.0,760.1 312.7,758.2 330.4,757.0 348.0,756.4 365.7,755.8 383.4,755.5 401.1,755.2 418.7,755.2 436.4,754.9 454.1,754.3 471.7,753.7 478.8,753.7"/>
<polyline class="c d" stroke="#FFA500" points="91.9,892.1 100.7,794.8 109.5,780.5 118.4,772.2 127.2,766.2 136.0,763.9 144.9,761.7 153.7,757.1 162.5,755.6 171.4,753.4 189.0,752.3 206.7,750.8 224.4,749.1 242.0,748.4 259.7,748.0 277.4,747.7 295.0,747.4 312.7,747.1 330.4,746.8 348.0,746.5 365.7,746.5 383.4,746.2 401.1,745.9 418.7,745.6 436.4,745.3 454.1,745.3 471.7,745.3 478.8,745.3"/>
</g>
<text class="t" x="93.9" y="1011.1" text-anchor="middle">5</text>
<text class="t" x="171.4" y="1011.1" text-anchor="middle">50</text>
<text class="t" x="259.7" y="1011.1" text-anchor="middle">100</text>
<text class="t" x="348.0" y="1011.1" text-anchor="middle">150</text>
<text class="t" x="436.4" y="1011.1" text-anchor="middle">200</text>
<text class="t" x="91.0" y="740.1" text-anchor="end">1</text>
<text class="t" x="91.0" y="784.2" text-anchor="end">0.95</text>
<text class="t" x="91.0" y="828.8" text-anchor="end">0.9</text>
<text class="t" x="91.0" y="873.1" text-anchor="end">0.85</text>
<text class="t" x="91.0" y="917.3" text-anchor="end">0.8</text>
<text class="t" x="91.0" y="961.9" text-anchor="end">0.75</text>
<text class="h" x="285.6" y="730.8" text-anchor="middle">cable</text>
<text class="a" x="285.6" y="1039.5" text-anchor="middle">sample size</text>
<text class="a" transform="translate(39.0,866.9) rotate(-90)" text-anchor="middle">AUC</text>
</g>
<g>
<clipPath id="p7"><rect x="568.4" y="735.6" width="387.2" height="262.6"/></clipPath>
<rect x="568.4" y="735.6" width="387.2" height="262.6" fill="#E5ECF6"/>
<line class="g" x1="635.0" y1="735.6" x2="635.0" y2="998.2"/>
<line class="g" x1="708.8" y1="735.6" x2="708.8" y2="998.2"/>
<line class="g" x1="782.6" y1="735.6" x2="782.6" y2="998.2"/>
<line class="g" x1="856.4" y1="735.6" x2="856.4" y2="998.2"/>
<line class="g" x1="930.2" y1="735.6" x2="930.2" y2="998.2"/>
<line class="g" x1="568.4" y1="770.9" x2="955.6" y2="770.9"/>
<line class="g" x1="568.4" y1="806.1" x2="955.6" y2="806.1"/>
<line class="g" x1="568.4" y1="841.4" x2="955.6" y2="841.4"/>
<line class="g" x1="568.4" y1="876.6" x2="955.6" y2="876.6"/>
<line class="g" x1="568.4" y1="911.8" x2="955.6" y2="911.8"/>
<line class="g" x1="568.4" y1="946.8" x2="955.6" y2="946.8"/>
<line class="g" x1="568.4" y1="982.0" x2="955.6" y2="982.0"/>
<g clip-path="url(#p7)">
<polyline class="c" stroke="#0000CD" points="568.6,954.6 576.0,924.5 583.4,913.2 590.7,904.9 598.1,903.4 605.5,897.3 612.9,890.9 620.3,890.6 627.6,887.1 635.0,887.1 649.8,887.8 664.5,887.8 679.3,884.8 694.0,886.3 708.8,885.3 723.6,882.9 738.3,880.5 753.1,876.9 767.8,878.7 782.6,878.1 797.3,878.1 812.1,878.7 826.9,874.8 841.6,871.2 856.4,871.2 871.1,870.0 885.9,870.6 900.6,868.2 915.4,866.7 930.2,867.0 944.9,866.7 955.2,865.5"/>
<polyline class="c d" stroke="#0000CD" points="568.6,942.6 576.0,921.5 583.4,907.1 590.7,901.6 598.1,903.4 605.5,898.9 612.9,895.4 620.3,898.1 627.6,893.6 635.0,892.5 649.8,893.6 664.5,892.8 679.3,889.5 694.0,890.6 708.8,889.3 723.6,886.5 738.3,885.9 753.1,882.6 767.8,883.8 782.6,882.6 797.3,883.2 812.1,883.2 826.9,879.6 841.6,877.2 856.4,877.5 871.1,876.0 885.9,876.0 900.6,874.5 915.4,874.2 930.2,873.9 944.9,873.6 955.2,871.2"/>
<polyline class="c" stroke="#00C99B" points="568.6,1106.9 576.0,1039.1 583.4,995.3 590.7,966.7 598.1,948.6 605.5,933.5 612.9,918.5 620.3,923.7 627.6,908.7 635.0,885.3 649.8,868.7 664.5,851.8 679.3,851.8 694.0,850.2 708.8,885.6 723.6,920.3 738.3,893.2 753.1,851.6 767.8,835.9 782.6,823.9 797.3,823.3 812.1,816.4 826.9,812.5 841.6,810.3 856.4,811.3 871.1,809.4 885.9,808.2 900.6,805.2 915.4,813.7 930.2,813.7 944.9,843.5 955.2,867.6"/>
<polyline class="c d" stroke="#00C99B" points="568.6,964.4 576.0,954.6 583.4,853.6 590.7,849.1 598.1,933.5 605.5,835.5 612.9,836.3 620.3,882.3 627.6,840.1 635.0,828.0 649.8,820.5 664.5,815.9 679.3,815.6 694.0,814.7 708.8,812.2 723.6,812.2 738.3,811.9 753.1,811.9 767.8,811.3 782.6,810.3 797.3,810.3 812.1,809.4 826.9,808.8 841.6,808.5 856.4,808.2 871.1,807.9 885.9,807.0 900.6,805.8 915.4,805.8 930.2,806.1 944.9,806.4 955.2,806.7"/>
<polyline class="c" stroke="#CC0000" points="568.6,954.6 576.0,907.9 583.4,890.6 590.7,877.0 598.1,868.7 605.5,862.7 612.9,852.9 620.3,851.4 627.6,846.8 635.0,842.8 649.8,838.2 664.5,832.2 679.3,830.7 694.0,829.5 708.8,826.3 723.6,824.8 738.3,824.2 753.1,823.3 767.8,822.1 782.6,820.9 797.3,819.1 812.1,818.2 826.9,817.0 841.6,816.4 856.4,814.9 871.1,814.0 885.9,812.8 900.6,811.6 915.4,811.6 930.2,811.0 944.9,810.3 955.2,811.3"/>
<polyline class="c d" stroke="#CC0000" points="568.6,910.9 576.0,864.2 583.4,853.6 590.7,846.1 598.1,840.8 605.5,835.5 612.9,831.3 620.3,830.3 627.6,827.2 635.0,825.4 649.8,822.0 664.5,819.7 679.3,820.0 694.0,818.6 708.8,815.8 723.6,814.6 738.3,814.6 753.1,813.1 767.8,812.5 782.6,811.0 797.3,810.6 812.1,809.7 826.9,809.4 841.6,808.2 856.4,807.6 871.1,807.3 885.9,807.3 900.6,807.0 915.4,806.7 930.2,806.7 944.9,806.4 955.2,806.4"/>
<polyline class="c" stroke="#FFA500" points="568.6,996.1 576.0,956.1 583.4,943.3 590.7,918.5 598.1,903.4 605.5,882.3 612.9,871.0 620.3,864.2 627.6,860.0 635.0,850.6 649.8,831.0 664.5,818.9 679.3,812.2 694.0,807.3 708.8,800.1 723.6,795.3 738.3,793.5 753.1,792.3 767.8,791.1 782.6,789.9 797.3,789.0 812.1,781.1 826.9,779.9 841.6,778.7 856.4,777.2 871.1,774.5 885.9,773.6 900.6,773.0 915.4,773.0 930.2,773.0 944.9,772.7 955.2,773.0"/>
<polyline class="c d" stroke="#FFA500" points="568.6,895.1 576.0,861.2 583.4,843.1 590.7,831.0 598.1,822.7 605.5,814.4 612.9,805.4 620.3,803.4 627.6,803.9 635.0,798.6 649.8,789.6 664.5,781.3 679.3,781.7 694.0,781.0 708.8,778.7 723.6,773.9 738.3,773.3 753.1,771.8 767.8,771.2 782.6,769.7 797.3,770.0 812.1,759.5 826.9,759.8 841.6,760.1 856.4,760.7 871.1,761.0 885.9,759.5 900.6,759.8 915.4,760.1 930.2,760.1 944.9,760.4 955.2,760.7"/>
</g>
<text class="t" x="570.6" y="1011.1" text-anchor="middle">5</text>
<text class="t" x="635.0" y="1011.1" text-anchor="middle">50</text>
<text class="t" x="708.8" y="1011.1" text-anchor="middle">100</text>
<text class="t" x="782.6" y="1011.1" text-anchor="middle">150</text>
<text class="t" x="856.4" y="1011.1" text-anchor="middle">200</text>
<text class="t" x="930.2" y="1011.1" text-anchor="middle">250</text>
<text class="t" x="567.4" y="740.1" text-anchor="end">1</text>
<text class="t" x="567.4" y="775.2" text-anchor="end">0.95</text>
<text class="t" x="567.4" y="810.4" text-anchor="end">0.9</text>
<text class="t" x="567.4" y="845.7" text-anchor="end">0.85</text>
<text class="t" x="567.4" y="880.9" text-anchor="end">0.8</text>
<text class="t" x="567.4" y="916.1" text-anchor="end">0.75</text>
<text class="t" x="567.4" y="951.1" text-anchor="end">0.7</text>
<text class="t" x="567.4" y="986.3" text-anchor="end">0.65</text>
<text class="h" x="762.0" y="730.8" text-anchor="middle">pill</text>
<text class="a" x="762.0" y="1039.5" text-anchor="middle">sample size</text>
<text class="a" transform="translate(515.4,866.9) rotate(-90)" text-anchor="middle">AUC</text>
</g>
<g>
<clipPath id="p8"><rect x="1044.8" y="735.6" width="387.2" height="262.6"/></clipPath>
<rect x="1044.8" y="735.6" width="387.2" height="262.6" fill="#E5ECF6"/>
<line class="g" x1="1128.5" y1="735.6" x2="1128.5" y2="998.2"/>
<line class="g" x1="1221.5" y1="735.6" x2="1221.5" y2="998.2"/>
<line class="g" x1="1314.6" y1="735.6" x2="1314.6" y2="998.2"/>
<line class="g" x1="1407.7" y1="735.6" x2="1407.7" y2="998.2"/>
<line class="g" x1="1044.8" y1="789.6" x2="1432.0" y2="789.6"/>
<line class="g" x1="1044.8" y1="843.5" x2="1432.0" y2="843.5"/>
<line class="g" x1="1044.8" y1="897.4" x2="1432.0" y2="897.4"/>
<line class="g" x1="1044.8" y1="951.0" x2="1432.0" y2="951.0"/>
<g clip-path="url(#p8)">
<polyline class="c" stroke="#0000CD" points="1044.7,904.1 1054.0,868.7 1063.3,868.7 1072.7,869.9 1082.0,867.5 1091.3,863.9 1100.6,851.4 1109.9,844.6 1119.2,848.3 1128.5,846.4 1147.1,840.8 1165.7,836.3 1184.3,829.5 1202.9,825.7 1221.5,821.8 1240.2,820.0 1258.8,823.6 1277.4,821.5 1296.0,816.4 1314.6,815.5 1333.2,814.3 1351.8,813.4 1370.4,810.3 1389.1,808.5 1407.7,812.5 1426.3,814.3 1431.9,814.9"/>
<polyline class="c d" stroke="#0000CD" points="1044.7,900.4 1054.0,862.4 1063.3,859.4 1072.7,858.9 1082.0,858.4 1091.3,858.1 1100.6,847.3 1109.9,841.9 1119.2,844.3 1128.5,842.8 1147.1,838.5 1165.7,835.5 1184.3,828.0 1202.9,825.0 1221.5,820.9 1240.2,817.0 1258.8,821.8 1277.4,820.3 1296.0,814.6 1314.6,814.0 1333.2,813.4 1351.8,814.0 1370.4,809.4 1389.1,807.9 1407.7,811.0 1426.3,811.3 1431.9,811.3"/>
<polyline class="c" stroke="#00C99B" points="1044.7,1061.7 1054.0,1024.0 1063.3,996.1 1072.7,969.7 1082.0,941.1 1091.3,904.9 1100.6,880.3 1109.9,876.5 1119.2,865.7 1128.5,855.1 1147.1,832.5 1165.7,824.2 1184.3,824.7 1202.9,846.1 1221.5,867.0 1240.2,927.2 1258.8,874.2 1277.4,838.1 1296.0,802.2 1314.6,793.2 1333.2,786.9 1351.8,783.2 1370.4,776.6 1389.1,767.6 1407.7,763.7 1426.3,759.5 1431.9,759.8"/>
<polyline class="c d" stroke="#00C99B" points="1044.7,923.0 1054.0,998.4 1063.3,841.6 1072.7,809.1 1082.0,924.5 1091.3,799.4 1100.6,799.0 1109.9,826.5 1119.2,788.8 1128.5,779.8 1147.1,777.0 1165.7,771.0 1184.3,767.7 1202.9,766.2 1221.5,764.6 1240.2,761.6 1258.8,759.5 1277.4,759.2 1296.0,759.2 1314.6,758.2 1333.2,757.6 1351.8,757.6 1370.4,756.7 1389.1,755.2 1407.7,754.0 1426.3,752.8 1431.9,752.5"/>
<polyline class="c" stroke="#CC0000" points="1044.7,884.5 1054.0,845.8 1063.3,834.8 1072.7,829.5 1082.0,826.8 1091.3,820.5 1100.6,806.6 1109.9,800.9 1119.2,799.4 1128.5,799.0 1147.1,792.1 1165.7,785.3 1184.3,785.8 1202.9,782.5 1221.5,780.8 1240.2,776.6 1258.8,775.7 1277.4,774.8 1296.0,771.2 1314.6,769.1 1333.2,768.2 1351.8,767.6 1370.4,766.7 1389.1,765.5 1407.7,763.4 1426.3,761.6 1431.9,761.3"/>
<polyline class="c d" stroke="#CC0000" points="1044.7,866.4 1054.0,832.5 1063.3,817.4 1072.7,798.9 1082.0,798.6 1091.3,788.0 1100.6,782.0 1109.9,779.8 1119.2,781.0 1128.5,779.8 1147.1,777.5 1165.7,773.0 1184.3,770.0 1202.9,768.4 1221.5,767.6 1240.2,766.1 1258.8,763.1 1277.4,762.2 1296.0,761.3 1314.6,760.1 1333.2,759.5 1351.8,759.2 1370.4,757.9 1389.1,757.3 1407.7,756.7 1426.3,755.8 1431.9,755.8"/>
<polyline class="c" stroke="#FFA500" points="1044.7,1039.1 1054.0,1008.9 1063.3,984.8 1072.7,953.9 1082.0,949.4 1091.3,930.5 1100.6,909.1 1109.9,907.9 1119.2,893.6 1128.5,870.2 1147.1,848.3 1165.7,840.8 1184.3,832.8 1202.9,826.5 1221.5,819.4 1240.2,810.6 1258.8,812.5 1277.4,812.8 1296.0,809.4 1314.6,807.6 1333.2,805.8 1351.8,797.7 1370.4,796.8 1389.1,795.9 1407.7,793.5 1426.3,789.9 1431.9,791.4"/>
<polyline class="c d" stroke="#FFA500" points="1044.7,898.1 1054.0,866.4 1063.3,846.1 1072.7,826.5 1082.0,821.2 1091.3,816.4 1100.6,806.9 1109.9,804.9 1119.2,800.9 1128.5,789.2 1147.1,780.2 1165.7,774.5 1184.3,771.5 1202.9,770.4 1221.5,770.6 1240.2,768.2 1258.8,768.2 1277.4,771.2 1296.0,772.1 1314.6,772.7 1333.2,771.8 1351.8,770.3 1370.4,771.8 1389.1,772.4 1407.7,772.1 1426.3,771.8 1431.9,771.8"/>
</g>
<text class="t" x="1046.7" y="1011.1" text-anchor="middle">5</text>
<text class="t" x="1128.5" y="1011.1" text-anchor="middle">50</text>
<text class="t" x="1221.5" y="1011.1" text-anchor="middle">100</text>
<text class="t" x="1314.6" y="1011.1" text-anchor="middle">150</text>
<text class="t" x="1407.7" y="1011.1" text-anchor="middle">200</text>
<text class="t" x="1043.8" y="740.1" text-anchor="end">1</text>
<text class="t" x="1043.8" y="793.9" text-anchor="end">0.95</text>
<text class="t" x="1043.8" y="847.8" text-anchor="end">0.9</text>
<text class="t" x="1043.8" y="901.7" text-anchor="end">0.85</text>
<text class="t" x="1043.8" y="955.3" text-anchor="end">0.8</text>
<text class="h" x="1238.4" y="730.8" text-anchor="middle">transistor</text>
<text class="a" x="1238.4" y="1039.5" text-anchor="middle">sample size</text>
<text class="a" transform="translate(991.8,866.9) rotate(-90)" text-anchor="middle">AUC</text>
</g>
<g>
<clipPath id="p9"><rect x="92.0" y="1080.4" width="387.2" height="262.6"/></clipPath>
<rect x="92.0" y="1080.4" width="387.2" height="262.6" fill="#E5ECF6"/>
<line class="g" x1="172.9" y1="1080.4" x2="172.9" y2="1343.0"/>
<line class="g" x1="262.9" y1="1080.4" x2="262.9" y2="1343.0"/>
<line class="g" x1="353.0" y1="1080.4" x2="353.0" y2="1343.0"/>
<line class="g" x1="443.0" y1="1080.4" x2="443.0" y2="1343.0"/>
<line class="g" x1="92.0" y1="1129.1" x2="479.2" y2="1129.1"/>
<line class="g" x1="92.0" y1="1177.9" x2="479.2" y2="1177.9"/>
<line class="g" x1="92.0" y1="1226.4" x2="479.2" y2="1226.4"/>
<line class="g" x1="92.0" y1="1274.9" x2="479.2" y2="1274.9"/>
<line class="g" x1="92.0" y1="1323.4" x2="479.2" y2="1323.4"/>
<g clip-path="url(#p9)">
<polyline class="c" stroke="#0000CD" points="91.8,1284.6 100.8,1250.6 109.8,1244.6 118.8,1240.8 127.8,1235.6 136.9,1231.0 145.9,1234.1 154.9,1228.8 163.9,1224.3 172.9,1223.0 190.9,1209.2 208.9,1208.4 226.9,1209.6 244.9,1211.7 262.9,1210.8 280.9,1205.9 298.9,1206.5 316.9,1205.0 335.0,1204.4 353.0,1203.8 371.0,1204.4 389.0,1208.7 407.0,1205.9 425.0,1206.8 443.0,1207.4 461.0,1206.8 479.0,1209.6"/>
<polyline class="c d" stroke="#0000CD" points="91.8,1278.5 100.8,1246.9 109.8,1241.6 118.8,1238.6 127.8,1233.3 136.9,1226.5 145.9,1227.3 154.9,1225.0 163.9,1222.0 172.9,1221.5 190.9,1209.5 208.9,1209.5 226.9,1209.6 244.9,1211.4 262.9,1210.2 280.9,1205.3 298.9,1205.3 316.9,1203.5 335.0,1199.3 353.0,1196.9 371.0,1199.0 389.0,1202.0 407.0,1199.6 425.0,1200.2 443.0,1200.8 461.0,1200.5 479.0,1203.2"/>
<polyline class="c" stroke="#00C99B" points="91.8,1451.9 100.8,1391.6 109.8,1341.8 118.8,1296.6 127.8,1255.9 136.9,1238.6 145.9,1227.3 154.9,1215.2 163.9,1199.4 172.9,1186.6 190.9,1176.0 208.9,1183.1 226.9,1169.5 244.9,1167.0 262.9,1174.9 280.9,1269.8 298.9,1220.1 316.9,1170.4 335.0,1152.3 353.0,1143.9 371.0,1139.7 389.0,1134.6 407.0,1133.1 425.0,1131.6 443.0,1130.1 461.0,1128.2 479.0,1126.4"/>
<polyline class="c d" stroke="#00C99B" points="91.8,1249.1 100.8,1287.6 109.8,1169.2 118.8,1163.9 127.8,1292.1 136.9,1136.8 145.9,1135.3 154.9,1168.5 163.9,1134.6 172.9,1124.0 190.9,1124.8 208.9,1124.0 226.9,1121.4 244.9,1121.7 262.9,1121.6 280.9,1121.0 298.9,1120.7 316.9,1120.1 335.0,1119.2 353.0,1119.5 371.0,1119.5 389.0,1118.6 407.0,1118.0 425.0,1118.0 443.0,1117.4 461.0,1117.4 479.0,1117.4"/>
<polyline class="c" stroke="#CC0000" points="91.8,1249.1 100.8,1214.5 109.8,1206.2 118.8,1193.3 127.8,1182.8 136.9,1173.7 145.9,1166.2 154.9,1165.9 163.9,1158.7 172.9,1152.2 190.9,1148.9 208.9,1144.7 226.9,1140.9 244.9,1139.5 262.9,1138.2 280.9,1138.8 298.9,1135.2 316.9,1134.0 335.0,1132.5 353.0,1131.0 371.0,1130.1 389.0,1128.2 407.0,1127.3 425.0,1126.7 443.0,1125.5 461.0,1124.9 479.0,1123.7"/>
<polyline class="c d" stroke="#CC0000" points="91.8,1190.3 100.8,1168.9 109.8,1163.2 118.8,1156.4 127.8,1149.6 136.9,1141.3 145.9,1140.6 154.9,1140.3 163.9,1136.5 172.9,1133.0 190.9,1130.0 208.9,1127.8 226.9,1123.5 244.9,1122.9 262.9,1122.5 280.9,1122.2 298.9,1121.9 316.9,1121.3 335.0,1120.1 353.0,1119.8 371.0,1120.7 389.0,1119.2 407.0,1118.6 425.0,1118.6 443.0,1118.3 461.0,1118.3 479.0,1118.3"/>
<polyline class="c" stroke="#FFA500" points="91.8,1373.5 100.8,1355.4 109.8,1338.8 118.8,1323.8 127.8,1298.1 136.9,1268.7 145.9,1255.9 154.9,1246.9 163.9,1237.1 172.9,1228.0 190.9,1226.5 208.9,1214.5 226.9,1207.7 244.9,1196.4 262.9,1192.1 280.9,1190.3 298.9,1186.7 316.9,1183.1 335.0,1174.0 353.0,1161.4 371.0,1161.7 389.0,1159.9 407.0,1151.1 425.0,1150.8 443.0,1143.6 461.0,1137.6 479.0,1126.4"/>
<polyline class="c d" stroke="#FFA500" points="91.8,1209.2 100.8,1150.4 109.8,1133.0 118.8,1123.2 127.8,1114.5 136.9,1113.4 145.9,1111.9 154.9,1110.4 163.9,1110.9 172.9,1108.9 190.9,1110.1 208.9,1111.9 226.9,1115.7 244.9,1115.0 262.9,1116.2 280.9,1117.4 298.9,1118.0 316.9,1118.9 335.0,1119.5 353.0,1119.8 371.0,1119.8 389.0,1118.9 407.0,1118.6 425.0,1118.9 443.0,1119.2 461.0,1119.2 479.0,1119.2"/>
</g>
<text class="t" x="93.8" y="1357.2" text-anchor="middle">5</text>
<text class="t" x="172.9" y="1356.1" text-anchor="middle">50</text>
<text class="t" x="262.9" y="1356.1" text-anchor="middle">100</text>
<text class="t" x="353.0" y="1356.1" text-anchor="middle">150</text>
<text class="t" x="443.0" y="1356.1" text-anchor="middle">200</text>
<text class="t" x="91.0" y="1084.9" text-anchor="end">1</text>
<text class="t" x="91.0" y="1133.4" text-anchor="end">0.95</text>
<text class="t" x="91.0" y="1182.2" text-anchor="end">0.9</text>
<text class="t" x="91.0" y="1230.7" text-anchor="end">0.85</text>
<text class="t" x="91.0" y="1279.2" text-anchor="end">0.8</text>
<text class="t" x="91.0" y="1327.7" text-anchor="end">0.75</text>
<text class="h" x="285.6" y="1074.6" text-anchor="middle">metal_nut</text>
<text class="a" x="285.6" y="1384.3" text-anchor="middle">sample size</text>
<text class="a" transform="translate(39.0,1211.7) rotate(-90)" text-anchor="middle">AUC</text>
</g>
<g>
<clipPath id="p10"><rect x="568.4" y="1080.4" width="387.2" height="262.6"/></clipPath>
<rect x="568.4" y="1080.4" width="387.2" height="262.6" fill="#E5ECF6"/>
<line class="g" x1="684.4" y1="1080.4" x2="684.4" y2="1343.0"/>
<line class="g" x1="808.5" y1="1080.4" x2="808.5" y2="1343.0"/>
<line class="g" x1="932.6" y1="1080.4" x2="932.6" y2="1343.0"/>
<line class="g" x1="568.4" y1="1145.4" x2="955.6" y2="1145.4"/>
<line class="g" x1="568.4" y1="1210.5" x2="955.6" y2="1210.5"/>
<line class="g" x1="568.4" y1="1275.2" x2="955.6" y2="1275.2"/>
<line class="g" x1="568.4" y1="1340.0" x2="955.6" y2="1340.0"/>
<g clip-path="url(#p10)">
<polyline class="c" stroke="#0000CD" points="591.4,1257.9 622.4,1232.1 653.4,1222.7 684.4,1207.7 715.4,1194.1 746.4,1187.3 777.5,1184.6 808.5,1182.0 839.5,1179.3 870.5,1178.6 932.6,1185.1"/>
<circle cx="591.4" cy="1257.9" r="3" fill="#0000CD"/>
<circle cx="622.4" cy="1232.1" r="3" fill="#0000CD"/>
<circle cx="653.4" cy="1222.7" r="3" fill="#0000CD"/>
<circle cx="684.4" cy="1207.7" r="3" fill="#0000CD"/>
<circle cx="715.4" cy="1194.1" r="3" fill="#0000CD"/>
<circle cx="746.4" cy="1187.3" r="3" fill="#0000CD"/>
<circle cx="777.5" cy="1184.6" r="3" fill="#0000CD"/>
<circle cx="808.5" cy="1182.0" r="3" fill="#0000CD"/>
<circle cx="839.5" cy="1179.3" r="3" fill="#0000CD"/>
<circle cx="870.5" cy="1178.6" r="3" fill="#0000CD"/>
<circle cx="932.6" cy="1185.1" r="3" fill="#0000CD"/>
<polyline class="c d" stroke="#0000CD" points="591.4,1248.7 622.4,1215.5 653.4,1199.7 684.4,1181.6 715.4,1165.2 746.4,1166.2 777.5,1167.0 808.5,1165.0 839.5,1163.5 870.5,1165.6 932.6,1174.2"/>
<circle cx="591.4" cy="1248.7" r="3" fill="#0000CD"/>
<circle cx="622.4" cy="1215.5" r="3" fill="#0000CD"/>
<circle cx="653.4" cy="1199.7" r="3" fill="#0000CD"/>
<circle cx="684.4" cy="1181.6" r="3" fill="#0000CD"/>
<circle cx="715.4" cy="1165.2" r="3" fill="#0000CD"/>
<circle cx="746.4" cy="1166.2" r="3" fill="#0000CD"/>
<circle cx="777.5" cy="1167.0" r="3" fill="#0000CD"/>
<circle cx="808.5" cy="1165.0" r="3" fill="#0000CD"/>
<circle cx="839.5" cy="1163.5" r="3" fill="#0000CD"/>
<circle cx="870.5" cy="1165.6" r="3" fill="#0000CD"/>
<circle cx="932.6" cy="1174.2" r="3" fill="#0000CD"/>
<polyline class="c" stroke="#00C99B" points="591.4,1542.4 622.4,1422.8 653.4,1291.8 684.4,1198.9 715.4,1145.4 746.4,1144.0 777.5,1138.3 808.5,1116.2 839.5,1110.0 870.5,1105.9 932.6,1102.1"/>
<circle cx="591.4" cy="1542.4" r="3" fill="#00C99B"/>
<circle cx="622.4" cy="1422.8" r="3" fill="#00C99B"/>
<circle cx="653.4" cy="1291.8" r="3" fill="#00C99B"/>
<circle cx="684.4" cy="1198.9" r="3" fill="#00C99B"/>
<circle cx="715.4" cy="1145.4" r="3" fill="#00C99B"/>
<circle cx="746.4" cy="1144.0" r="3" fill="#00C99B"/>
<circle cx="777.5" cy="1138.3" r="3" fill="#00C99B"/>
<circle cx="808.5" cy="1116.2" r="3" fill="#00C99B"/>
<circle cx="839.5" cy="1110.0" r="3" fill="#00C99B"/>
<circle cx="870.5" cy="1105.9" r="3" fill="#00C99B"/>
<circle cx="932.6" cy="1102.1" r="3" fill="#00C99B"/>
<polyline class="c d" stroke="#00C99B" points="591.4,1263.0 622.4,1308.7 653.4,1183.5 684.4,1186.6 715.4,1191.1 746.4,1179.8 777.5,1175.7 808.5,1197.4 839.5,1152.6 870.5,1156.1 932.6,1156.1"/>
<circle cx="591.4" cy="1263.0" r="3" fill="#00C99B"/>
<circle cx="622.4" cy="1308.7" r="3" fill="#00C99B"/>
<circle cx="653.4" cy="1183.5" r="3" fill="#00C99B"/>
<circle cx="684.4" cy="1186.6" r="3" fill="#00C99B"/>
<circle cx="715.4" cy="1191.1" r="3" fill="#00C99B"/>
<circle cx="746.4" cy="1179.8" r="3" fill="#00C99B"/>
<circle cx="777.5" cy="1175.7" r="3" fill="#00C99B"/>
<circle cx="808.5" cy="1197.4" r="3" fill="#00C99B"/>
<circle cx="839.5" cy="1152.6" r="3" fill="#00C99B"/>
<circle cx="870.5" cy="1156.1" r="3" fill="#00C99B"/>
<circle cx="932.6" cy="1156.1" r="3" fill="#00C99B"/>
<polyline class="c" stroke="#CC0000" points="591.4,1234.8 622.4,1184.3 653.4,1151.1 684.4,1142.5 715.4,1130.0 746.4,1125.2 777.5,1118.3 808.5,1120.7 839.5,1121.4 870.5,1122.9 932.6,1131.1"/>
<circle cx="591.4" cy="1234.8" r="3" fill="#CC0000"/>
<circle cx="622.4" cy="1184.3" r="3" fill="#CC0000"/>
<circle cx="653.4" cy="1151.1" r="3" fill="#CC0000"/>
<circle cx="684.4" cy="1142.5" r="3" fill="#CC0000"/>
<circle cx="715.4" cy="1130.0" r="3" fill="#CC0000"/>
<circle cx="746.4" cy="1125.2" r="3" fill="#CC0000"/>
<circle cx="777.5" cy="1118.3" r="3" fill="#CC0000"/>
<circle cx="808.5" cy="1120.7" r="3" fill="#CC0000"/>
<circle cx="839.5" cy="1121.4" r="3" fill="#CC0000"/>
<circle cx="870.5" cy="1122.9" r="3" fill="#CC0000"/>
<circle cx="932.6" cy="1131.1" r="3" fill="#CC0000"/>
<polyline class="c d" stroke="#CC0000" points="591.4,1236.3 622.4,1186.9 653.4,1159.9 684.4,1151.9 715.4,1136.1 746.4,1135.3 777.5,1132.3 808.5,1126.3 839.5,1126.3 870.5,1128.1 932.6,1127.5"/>
<circle cx="591.4" cy="1236.3" r="3" fill="#CC0000"/>
<circle cx="622.4" cy="1186.9" r="3" fill="#CC0000"/>
<circle cx="653.4" cy="1159.9" r="3" fill="#CC0000"/>
<circle cx="684.4" cy="1151.9" r="3" fill="#CC0000"/>
<circle cx="715.4" cy="1136.1" r="3" fill="#CC0000"/>
<circle cx="746.4" cy="1135.3" r="3" fill="#CC0000"/>
<circle cx="777.5" cy="1132.3" r="3" fill="#CC0000"/>
<circle cx="808.5" cy="1126.3" r="3" fill="#CC0000"/>
<circle cx="839.5" cy="1126.3" r="3" fill="#CC0000"/>
<circle cx="870.5" cy="1128.1" r="3" fill="#CC0000"/>
<circle cx="932.6" cy="1127.5" r="3" fill="#CC0000"/>
<polyline class="c" stroke="#FFA500" points="591.4,1406.7 622.4,1375.0 653.4,1343.7 684.4,1315.0 715.4,1300.7 746.4,1285.3 777.5,1279.0 808.5,1272.5 839.5,1264.5 870.5,1266.8 932.6,1257.4"/>
<circle cx="591.4" cy="1406.7" r="3" fill="#FFA500"/>
<circle cx="622.4" cy="1375.0" r="3" fill="#FFA500"/>
<circle cx="653.4" cy="1343.7" r="3" fill="#FFA500"/>
<circle cx="684.4" cy="1315.0" r="3" fill="#FFA500"/>
<circle cx="715.4" cy="1300.7" r="3" fill="#FFA500"/>
<circle cx="746.4" cy="1285.3" r="3" fill="#FFA500"/>
<circle cx="777.5" cy="1279.0" r="3" fill="#FFA500"/>
<circle cx="808.5" cy="1272.5" r="3" fill="#FFA500"/>
<circle cx="839.5" cy="1264.5" r="3" fill="#FFA500"/>
<circle cx="870.5" cy="1266.8" r="3" fill="#FFA500"/>
<circle cx="932.6" cy="1257.4" r="3" fill="#FFA500"/>
<polyline class="c d" stroke="#FFA500" points="591.4,1391.6 622.4,1354.7 653.4,1307.9 684.4,1299.2 715.4,1284.1 746.4,1278.2 777.5,1275.5 808.5,1266.0 839.5,1262.4 870.5,1265.3 932.6,1257.1"/>
<circle cx="591.4" cy="1391.6" r="3" fill="#FFA500"/>
<circle cx="622.4" cy="1354.7" r="3" fill="#FFA500"/>
<circle cx="653.4" cy="1307.9" r="3" fill="#FFA500"/>
<circle cx="684.4" cy="1299.2" r="3" fill="#FFA500"/>
<circle cx="715.4" cy="1284.1" r="3" fill="#FFA500"/>
<circle cx="746.4" cy="1278.2" r="3" fill="#FFA500"/>
<circle cx="777.5" cy="1275.5" r="3" fill="#FFA500"/>
<circle cx="808.5" cy="1266.0" r="3" fill="#FFA500"/>
<circle cx="839.5" cy="1262.4" r="3" fill="#FFA500"/>
<circle cx="870.5" cy="1265.3" r="3" fill="#FFA500"/>
<circle cx="932.6" cy="1257.1" r="3" fill="#FFA500"/>
</g>
<text class="t" x="568.8" y="1356.1" text-anchor="middle">0</text>
<text class="t" x="684.4" y="1356.1" text-anchor="middle">20</text>
<text class="t" x="808.5" y="1356.1" text-anchor="middle">40</text>
<text class="t" x="932.6" y="1356.1" text-anchor="middle">60</text>
<text class="t" x="567.4" y="1084.9" text-anchor="end">1</text>
<text class="t" x="567.4" y="1149.7" text-anchor="end">0.95</text>
<text class="t" x="567.4" y="1214.8" text-anchor="end">0.9</text>
<text class="t" x="567.4" y="1279.5" text-anchor="end">0.85</text>
<text class="t" x="567.4" y="1344.3" text-anchor="end">0.8</text>
<text class="h" x="762.0" y="1074.6" text-anchor="middle">toothbrush</text>
<text class="a" x="762.0" y="1384.3" text-anchor="middle">sample size</text>
<text class="a" transform="translate(515.4,1211.7) rotate(-90)" text-anchor="middle">AUC</text>
</g>
<g>
<clipPath id="p11"><rect x="1044.8" y="1080.4" width="387.2" height="262.6"/></clipPath>
<rect x="1044.8" y="1080.4" width="387.2" height="262.6" fill="#E5ECF6"/>
<line class="g" x1="1161.6" y1="1080.4" x2="1161.6" y2="1343.0"/>
<line class="g" x1="1284.6" y1="1080.4" x2="1284.6" y2="1343.0"/>
<line class="g" x1="1407.7" y1="1080.4" x2="1407.7" y2="1343.0"/>
<line class="g" x1="1044.8" y1="1132.5" x2="1432.0" y2="1132.5"/>
<line class="g" x1="1044.8" y1="1184.6" x2="1432.0" y2="1184.6"/>
<line class="g" x1="1044.8" y1="1236.7" x2="1432.0" y2="1236.7"/>
<line class="g" x1="1044.8" y1="1288.5" x2="1432.0" y2="1288.5"/>
<line class="g" x1="1044.8" y1="1340.6" x2="1432.0" y2="1340.6"/>
<g clip-path="url(#p11)">
<polyline class="c" stroke="#0000CD" points="1044.7,1314.0 1050.9,1289.8 1057.0,1280.0 1063.2,1274.0 1069.3,1272.5 1075.5,1267.2 1081.6,1261.6 1087.8,1259.7 1094.0,1259.7 1100.1,1255.2 1112.4,1234.1 1124.7,1209.6 1137.0,1205.4 1149.3,1202.8 1161.6,1201.3 1173.9,1200.9 1186.2,1199.8 1198.5,1196.8 1210.8,1194.4 1223.1,1191.8 1235.4,1183.8 1247.7,1180.5 1260.0,1180.6 1272.3,1179.4 1284.6,1174.3 1296.9,1170.4 1309.2,1166.8 1321.5,1164.4 1333.8,1161.7 1346.1,1155.3 1358.5,1154.4 1370.8,1150.8 1383.1,1147.5 1395.4,1146.9 1407.7,1144.8 1420.0,1142.4 1432.3,1141.2"/>
<polyline class="c d" stroke="#0000CD" points="1044.7,1265.7 1050.9,1252.9 1057.0,1239.3 1063.2,1233.0 1069.3,1237.1 1075.5,1231.8 1081.6,1225.8 1087.8,1223.5 1094.0,1222.4 1100.1,1221.2 1112.4,1200.1 1124.7,1181.6 1137.0,1179.0 1149.3,1174.5 1161.6,1173.7 1173.9,1175.3 1186.2,1173.7 1198.5,1169.7 1210.8,1168.8 1223.1,1166.2 1235.4,1161.4 1247.7,1160.2 1260.0,1161.4 1272.3,1159.0 1284.6,1156.3 1296.9,1152.3 1309.2,1150.2 1321.5,1149.3 1333.8,1146.9 1346.1,1143.9 1358.5,1144.5 1370.8,1141.8 1383.1,1138.8 1395.4,1138.2 1407.7,1136.1 1420.0,1133.4 1432.3,1131.9"/>
<polyline class="c" stroke="#00C99B" points="1044.7,1376.5 1050.9,1355.4 1057.0,1342.6 1063.2,1334.6 1069.3,1335.5 1075.5,1337.6 1081.6,1305.7 1087.8,1300.4 1094.0,1274.0 1100.1,1273.7 1112.4,1248.4 1124.7,1237.1 1137.0,1214.5 1149.3,1217.2 1161.6,1255.2 1173.9,1248.4 1186.2,1220.5 1198.5,1192.3 1210.8,1172.2 1223.1,1166.2 1235.4,1155.7 1247.7,1151.9 1260.0,1146.9 1272.3,1145.4 1284.6,1138.8 1296.9,1136.7 1309.2,1134.9 1321.5,1135.2 1333.8,1140.0 1346.1,1140.3 1358.5,1159.3 1370.8,1236.7 1383.1,1202.0 1395.4,1152.3 1407.7,1137.3 1420.0,1129.1 1432.3,1126.1"/>
<polyline class="c d" stroke="#00C99B" points="1044.7,1254.4 1050.9,1308.7 1057.0,1169.2 1063.2,1169.2 1069.3,1243.1 1075.5,1160.9 1081.6,1174.5 1087.8,1230.3 1094.0,1180.5 1100.1,1160.9 1112.4,1147.1 1124.7,1141.8 1137.0,1138.3 1149.3,1136.8 1161.6,1138.3 1173.9,1136.8 1186.2,1135.0 1198.5,1133.3 1210.8,1131.5 1223.1,1131.1 1235.4,1129.6 1247.7,1128.5 1260.0,1129.7 1272.3,1129.1 1284.6,1128.2 1296.9,1128.8 1309.2,1127.3 1321.5,1126.7 1333.8,1127.6 1346.1,1127.6 1358.5,1127.3 1370.8,1126.7 1383.1,1126.7 1395.4,1126.7 1407.7,1126.1 1420.0,1126.7 1432.3,1125.2"/>
<polyline class="c" stroke="#CC0000" points="1044.7,1311.7 1050.9,1268.0 1057.0,1244.6 1063.2,1241.6 1069.3,1230.0 1075.5,1228.8 1081.6,1223.5 1087.8,1221.2 1094.0,1211.1 1100.1,1214.0 1112.4,1183.5 1124.7,1164.7 1137.0,1156.4 1149.3,1156.4 1161.6,1152.9 1173.9,1148.1 1186.2,1144.7 1198.5,1143.6 1210.8,1139.8 1223.1,1140.9 1235.4,1136.5 1247.7,1134.2 1260.0,1134.3 1272.3,1133.4 1284.6,1130.4 1296.9,1126.1 1309.2,1122.8 1321.5,1121.6 1333.8,1121.9 1346.1,1120.1 1358.5,1119.5 1370.8,1116.5 1383.1,1115.6 1395.4,1115.6 1407.7,1113.8 1420.0,1113.5 1432.3,1113.2"/>
<polyline class="c d" stroke="#CC0000" points="1044.7,1234.8 1050.9,1188.1 1057.0,1161.4 1063.2,1157.2 1069.3,1151.9 1075.5,1151.1 1081.6,1150.1 1087.8,1151.1 1094.0,1150.8 1100.1,1148.9 1112.4,1141.3 1124.7,1135.0 1137.0,1132.3 1149.3,1132.3 1161.6,1133.5 1173.9,1132.0 1186.2,1129.3 1198.5,1129.0 1210.8,1128.5 1223.1,1129.6 1235.4,1127.3 1247.7,1127.0 1260.0,1127.6 1272.3,1128.2 1284.6,1126.7 1296.9,1126.7 1309.2,1125.8 1321.5,1124.6 1333.8,1126.1 1346.1,1126.7 1358.5,1125.2 1370.8,1125.2 1383.1,1124.6 1395.4,1125.2 1407.7,1123.7 1420.0,1123.7 1432.3,1123.7"/>
<polyline class="c" stroke="#FFA500" points="1044.7,1338.8 1050.9,1299.2 1057.0,1299.6 1063.2,1288.3 1069.3,1277.0 1075.5,1269.5 1081.6,1259.7 1087.8,1252.1 1094.0,1240.8 1100.1,1223.5 1112.4,1201.6 1124.7,1175.3 1137.0,1157.2 1149.3,1158.4 1161.6,1156.4 1173.9,1146.2 1186.2,1145.9 1198.5,1142.5 1210.8,1138.3 1223.1,1134.9 1235.4,1128.5 1247.7,1123.2 1260.0,1119.5 1272.3,1118.6 1284.6,1112.6 1296.9,1109.3 1309.2,1105.4 1321.5,1105.1 1333.8,1104.8 1346.1,1104.2 1358.5,1103.5 1370.8,1103.2 1383.1,1102.6 1395.4,1102.0 1407.7,1099.6 1420.0,1099.9 1432.3,1099.0"/>
<polyline class="c d" stroke="#FFA500" points="1044.7,1235.6 1050.9,1185.8 1057.0,1159.4 1063.2,1153.4 1069.3,1146.6 1075.5,1144.4 1081.6,1139.8 1087.8,1136.1 1094.0,1135.3 1100.1,1134.6 1112.4,1132.3 1124.7,1129.3 1137.0,1124.0 1149.3,1124.0 1161.6,1124.0 1173.9,1122.9 1186.2,1122.2 1198.5,1123.5 1210.8,1121.0 1223.1,1121.7 1235.4,1119.9 1247.7,1119.2 1260.0,1119.8 1272.3,1120.1 1284.6,1120.7 1296.9,1120.7 1309.2,1119.5 1321.5,1119.2 1333.8,1119.2 1346.1,1119.8 1358.5,1119.2 1370.8,1118.6 1383.1,1118.6 1395.4,1118.6 1407.7,1117.1 1420.0,1117.1 1432.3,1117.1"/>
</g>
<text class="t" x="1046.7" y="1357.2" text-anchor="middle">5</text>
<text class="t" x="1161.6" y="1356.1" text-anchor="middle">100</text>
<text class="t" x="1284.6" y="1356.1" text-anchor="middle">200</text>
<text class="t" x="1407.7" y="1356.1" text-anchor="middle">300</text>
<text class="t" x="1043.8" y="1084.9" text-anchor="end">1</text>
<text class="t" x="1043.8" y="1136.8" text-anchor="end">0.9</text>
<text class="t" x="1043.8" y="1188.9" text-anchor="end">0.8</text>
<text class="t" x="1043.8" y="1241.0" text-anchor="end">0.7</text>
<text class="t" x="1043.8" y="1292.8" text-anchor="end">0.6</text>
<text class="t" x="1043.8" y="1344.9" text-anchor="end">0.5</text>
<text class="h" x="1238.4" y="1074.6" text-anchor="middle">screw</text>
<text class="a" x="1238.4" y="1384.3" text-anchor="middle">sample size</text>
<text class="a" transform="translate(999.4,1211.7) rotate(-90)" text-anchor="middle">AUC</text>
</g>
<g>
<clipPath id="p12"><rect x="92.0" y="1425.3" width="387.2" height="262.6"/></clipPath>
<rect x="92.0" y="1425.3" width="387.2" height="262.6" fill="#E5ECF6"/>
<line class="g" x1="187.3" y1="1425.3" x2="187.3" y2="1687.9"/>
<line class="g" x1="287.6" y1="1425.3" x2="287.6" y2="1687.9"/>
<line class="g" x1="387.9" y1="1425.3" x2="387.9" y2="1687.9"/>
<line class="g" x1="92.0" y1="1471.4" x2="479.2" y2="1471.4"/>
<line class="g" x1="92.0" y1="1517.5" x2="479.2" y2="1517.5"/>
<line class="g" x1="92.0" y1="1563.6" x2="479.2" y2="1563.6"/>
<line class="g" x1="92.0" y1="1609.7" x2="479.2" y2="1609.7"/>
<line class="g" x1="92.0" y1="1655.7" x2="479.2" y2="1655.7"/>
<g clip-path="url(#p12)">
<polyline class="c" stroke="#0000CD" points="92.1,1503.7 97.1,1491.6 102.1,1484.1 107.1,1478.0 112.1,1480.0 117.1,1474.3 122.1,1472.0 127.2,1470.5 132.2,1472.3 137.2,1471.6 147.2,1466.0 157.2,1464.9 167.3,1462.2 177.3,1460.4 187.3,1459.7 197.4,1458.2 207.4,1457.0 217.4,1456.7 227.4,1456.7 237.5,1456.7 247.5,1456.1 257.5,1454.9 267.6,1454.6 277.6,1454.0 287.6,1453.4 297.6,1452.8 307.7,1452.2 317.7,1452.5 327.7,1452.2 337.8,1451.9 347.8,1451.6 357.8,1451.0 367.8,1450.4 377.9,1450.4 387.9,1450.1 397.9,1449.8 408.0,1449.5 418.0,1449.2 428.0,1448.5 438.0,1448.2 448.1,1447.9 458.1,1447.6 468.1,1447.3 479.2,1447.0"/>
<polyline class="c d" stroke="#0000CD" points="92.1,1485.9 97.1,1472.0 102.1,1464.5 107.1,1459.2 112.1,1460.4 117.1,1458.4 122.1,1456.9 127.2,1456.2 132.2,1458.0 137.2,1457.7 147.2,1452.9 157.2,1452.1 167.3,1450.9 177.3,1450.2 187.3,1449.5 197.4,1448.5 207.4,1448.5 217.4,1448.2 227.4,1447.9 237.5,1447.9 247.5,1447.6 257.5,1446.7 267.6,1446.4 277.6,1446.1 287.6,1445.8 297.6,1445.5 307.7,1444.9 317.7,1444.9 327.7,1444.6 337.8,1444.3 347.8,1443.7 357.8,1443.1 367.8,1442.8 377.9,1442.5 387.9,1442.2 397.9,1441.9 408.0,1441.6 418.0,1441.3 428.0,1441.3 438.0,1441.0 448.1,1441.0 458.1,1440.7 468.1,1440.7 479.2,1440.7"/>
<polyline class="c" stroke="#00C99B" points="92.1,1653.7 97.1,1620.5 102.1,1588.9 107.1,1572.3 112.1,1555.7 117.1,1525.5 122.1,1508.9 127.2,1489.4 132.2,1479.6 137.2,1474.3 147.2,1460.7 157.2,1446.8 167.3,1441.6 177.3,1439.1 187.3,1446.7 197.4,1485.9 207.4,1461.2 217.4,1439.5 227.4,1431.1 237.5,1429.0 247.5,1427.5 257.5,1426.9 267.6,1426.9 277.6,1426.9 287.6,1426.9 297.6,1426.9 307.7,1426.9 317.7,1426.9 327.7,1428.7 337.8,1429.3 347.8,1428.7 357.8,1458.2 367.8,1434.1 377.9,1428.1 387.9,1426.3 397.9,1426.3 408.0,1426.3 418.0,1426.3 428.0,1426.3 438.0,1426.3 448.1,1426.3 458.1,1426.3 468.1,1426.3 479.2,1426.3"/>
<polyline class="c d" stroke="#00C99B" points="92.1,1508.9 97.1,1524.0 102.1,1435.1 107.1,1432.1 112.1,1470.5 117.1,1428.3 122.1,1429.0 127.2,1445.6 132.2,1429.0 137.2,1426.8 147.2,1425.3 157.2,1425.3 167.3,1425.3 177.3,1425.3 187.3,1425.3 197.4,1425.3 207.4,1425.3 217.4,1425.3 227.4,1425.3 237.5,1425.3 247.5,1425.3 257.5,1425.3 267.6,1425.3 277.6,1425.3 287.6,1425.3 297.6,1425.3 307.7,1425.3 317.7,1425.3 327.7,1425.3 337.8,1425.3 347.8,1425.3 357.8,1425.3 367.8,1425.3 377.9,1425.3 387.9,1425.3 397.9,1425.3 408.0,1425.3 418.0,1425.3 428.0,1425.3 438.0,1425.3 448.1,1425.3 458.1,1425.3 468.1,1425.3 479.2,1425.3"/>
<polyline class="c" stroke="#CC0000" points="92.1,1498.4 97.1,1480.3 102.1,1463.7 107.1,1453.9 112.1,1450.2 117.1,1443.8 122.1,1438.8 127.2,1437.0 132.2,1435.5 137.2,1434.5 147.2,1432.1 157.2,1430.9 167.3,1430.3 177.3,1428.7 187.3,1428.4 197.4,1428.1 207.4,1427.8 217.4,1427.5 227.4,1427.5 237.5,1427.2 247.5,1427.2 257.5,1427.2 267.6,1427.2 277.6,1427.2 287.6,1427.2 297.6,1427.2 307.7,1427.2 317.7,1427.2 327.7,1427.2 337.8,1427.2 347.8,1427.2 357.8,1427.2 367.8,1427.2 377.9,1427.2 387.9,1427.0 397.9,1427.0 408.0,1427.0 418.0,1427.0 428.0,1427.0 438.0,1427.0 448.1,1427.0 458.1,1427.0 468.1,1427.0 479.2,1427.0"/>
<polyline class="c d" stroke="#CC0000" points="92.1,1451.7 97.1,1435.1 102.1,1430.9 107.1,1429.8 112.1,1427.8 117.1,1427.5 122.1,1427.5 127.2,1427.2 132.2,1426.9 137.2,1426.6 147.2,1426.6 157.2,1426.6 167.3,1426.6 177.3,1426.6 187.3,1426.3 197.4,1426.3 207.4,1426.3 217.4,1426.3 227.4,1426.3 237.5,1426.3 247.5,1426.3 257.5,1426.3 267.6,1426.3 277.6,1426.3 287.6,1426.3 297.6,1426.3 307.7,1426.3 317.7,1426.3 327.7,1426.3 337.8,1426.3 347.8,1426.3 357.8,1426.3 367.8,1426.3 377.9,1426.3 387.9,1426.3 397.9,1426.3 408.0,1426.3 418.0,1426.3 428.0,1426.3 438.0,1426.3 448.1,1426.3 458.1,1426.3 468.1,1426.3 479.2,1426.3"/>
<polyline class="c" stroke="#FFA500" points="92.1,1723.0 97.1,1703.4 102.1,1685.3 107.1,1670.3 112.1,1656.7 117.1,1644.6 122.1,1637.1 127.2,1625.0 132.2,1613.0 137.2,1605.4 147.2,1585.8 157.2,1581.6 167.3,1573.8 177.3,1572.6 187.3,1565.1 197.4,1555.5 207.4,1551.8 217.4,1549.7 227.4,1547.3 237.5,1547.0 247.5,1540.1 257.5,1537.1 267.6,1534.7 277.6,1534.7 287.6,1529.9 297.6,1529.9 307.7,1527.8 317.7,1525.0 327.7,1525.3 337.8,1525.0 347.8,1521.4 357.8,1522.6 367.8,1521.4 377.9,1520.2 387.9,1517.2 397.9,1516.9 408.0,1516.9 418.0,1514.2 428.0,1514.5 438.0,1514.8 448.1,1513.9 458.1,1513.0 468.1,1512.7 479.2,1513.3"/>
<polyline class="c d" stroke="#FFA500" points="92.1,1531.6 97.1,1498.4 102.1,1486.3 107.1,1479.6 112.1,1481.8 117.1,1475.8 122.1,1473.5 127.2,1472.0 132.2,1468.5 137.2,1469.0 147.2,1468.2 157.2,1471.3 167.3,1473.1 177.3,1474.3 187.3,1474.4 197.4,1476.9 207.4,1478.7 217.4,1480.2 227.4,1481.4 237.5,1483.2 247.5,1483.8 257.5,1484.7 267.6,1484.4 277.6,1483.8 287.6,1483.8 297.6,1484.1 307.7,1483.5 317.7,1480.8 327.7,1481.1 337.8,1480.8 347.8,1480.8 357.8,1480.8 367.8,1480.5 377.9,1480.2 387.9,1479.3 397.9,1478.4 408.0,1478.1 418.0,1478.1 428.0,1477.8 438.0,1478.1 448.1,1477.5 458.1,1477.5 468.1,1477.2 479.2,1477.2"/>
</g>
<text class="t" x="94.1" y="1704.5" text-anchor="middle">5</text>
<text class="t" x="187.3" y="1700.9" text-anchor="middle">100</text>
<text class="t" x="287.6" y="1700.9" text-anchor="middle">200</text>
<text class="t" x="387.9" y="1700.9" text-anchor="middle">300</text>
<text class="t" x="91.0" y="1429.8" text-anchor="end">1</text>
<text class="t" x="91.0" y="1475.7" text-anchor="end">0.9</text>
<text class="t" x="91.0" y="1521.8" text-anchor="end">0.8</text>
<text class="t" x="91.0" y="1567.9" text-anchor="end">0.7</text>
<text class="t" x="91.0" y="1614.0" text-anchor="end">0.6</text>
<text class="t" x="91.0" y="1660.0" text-anchor="end">0.5</text>
<text class="h" x="285.6" y="1419.5" text-anchor="middle">hazelnut</text>
<text class="a" x="285.6" y="1729.2" text-anchor="middle">sample size</text>
<text class="a" transform="translate(46.6,1556.6) rotate(-90)" text-anchor="middle">AUC</text>
</g>
<g>
<clipPath id="p13"><rect x="568.4" y="1425.3" width="387.2" height="262.6"/></clipPath>
<rect x="568.4" y="1425.3" width="387.2" height="262.6" fill="#E5ECF6"/>
<line class="g" x1="642.8" y1="1425.3" x2="642.8" y2="1687.9"/>
<line class="g" x1="725.1" y1="1425.3" x2="725.1" y2="1687.9"/>
<line class="g" x1="807.3" y1="1425.3" x2="807.3" y2="1687.9"/>
<line class="g" x1="889.5" y1="1425.3" x2="889.5" y2="1687.9"/>
<line class="g" x1="568.4" y1="1503.1" x2="955.6" y2="1503.1"/>
<line class="g" x1="568.4" y1="1580.8" x2="955.6" y2="1580.8"/>
<line class="g" x1="568.4" y1="1658.5" x2="955.6" y2="1658.5"/>
<g clip-path="url(#p13)">
<polyline class="c" stroke="#0000CD" points="568.9,1558.4 577.1,1545.9 585.3,1534.9 593.5,1532.3 601.7,1533.4 610.0,1531.6 618.2,1527.8 626.4,1526.3 634.6,1524.0 642.8,1530.8 659.3,1534.3 675.7,1536.4 692.2,1535.0 708.6,1532.3 725.1,1526.2 741.5,1525.6 758.0,1520.8 774.4,1518.7 790.8,1518.4 807.3,1516.9 823.7,1516.0 840.2,1513.3 856.6,1513.0 873.1,1511.8 889.5,1512.4 905.9,1511.2 922.4,1511.2 938.8,1511.2 955.3,1511.5"/>
<polyline class="c d" stroke="#0000CD" points="568.9,1551.9 577.1,1540.6 585.3,1530.8 593.5,1528.8 601.7,1527.8 610.0,1526.3 618.2,1524.0 626.4,1522.5 634.6,1523.0 642.8,1523.7 659.3,1528.8 675.7,1532.6 692.2,1531.3 708.6,1528.2 725.1,1522.9 741.5,1523.2 758.0,1520.5 774.4,1518.1 790.8,1517.5 807.3,1515.4 823.7,1514.5 840.2,1509.4 856.6,1508.8 873.1,1506.4 889.5,1507.6 905.9,1504.0 922.4,1503.4 938.8,1503.1 955.3,1503.1"/>
<polyline class="c" stroke="#00C99B" points="568.9,1683.8 577.1,1622.0 585.3,1576.8 593.5,1551.2 601.7,1530.1 610.0,1544.4 618.2,1531.3 626.4,1528.5 634.6,1518.0 642.8,1511.2 659.3,1502.6 675.7,1493.1 692.2,1492.7 708.6,1503.7 725.1,1514.5 741.5,1694.6 758.0,1538.9 774.4,1489.8 790.8,1483.8 807.3,1479.3 823.7,1474.1 840.2,1470.2 856.6,1468.1 873.1,1461.5 889.5,1458.8 905.9,1458.8 922.4,1459.7 938.8,1461.8 955.3,1465.7"/>
<polyline class="c d" stroke="#00C99B" points="568.9,1611.5 577.1,1736.6 585.3,1563.2 593.5,1554.2 601.7,1586.6 610.0,1542.9 618.2,1549.7 626.4,1559.9 634.6,1524.0 642.8,1508.9 659.3,1501.4 675.7,1503.7 692.2,1499.5 708.6,1494.6 725.1,1489.5 741.5,1489.8 758.0,1487.4 774.4,1487.7 790.8,1488.0 807.3,1486.2 823.7,1485.9 840.2,1484.1 856.6,1483.8 873.1,1480.8 889.5,1479.3 905.9,1478.4 922.4,1477.2 938.8,1476.9 955.3,1476.9"/>
<polyline class="c" stroke="#CC0000" points="568.9,1530.8 577.1,1512.7 585.3,1508.2 593.5,1511.5 601.7,1502.9 610.0,1498.4 618.2,1495.4 626.4,1493.1 634.6,1492.1 642.8,1491.3 659.3,1490.1 675.7,1490.6 692.2,1486.3 708.6,1483.0 725.1,1478.7 741.5,1478.7 758.0,1476.9 774.4,1475.4 790.8,1474.7 807.3,1472.6 823.7,1471.4 840.2,1469.9 856.6,1468.7 873.1,1467.8 889.5,1466.9 905.9,1466.0 922.4,1466.0 938.8,1465.7 955.3,1465.7"/>
<polyline class="c d" stroke="#CC0000" points="568.9,1552.7 577.1,1514.2 585.3,1508.9 593.5,1508.9 601.7,1500.7 610.0,1497.3 618.2,1495.8 626.4,1494.3 634.6,1493.6 642.8,1492.8 659.3,1491.3 675.7,1492.1 692.2,1491.2 708.6,1488.6 725.1,1483.2 741.5,1483.2 758.0,1480.8 774.4,1479.3 790.8,1478.1 807.3,1475.7 823.7,1474.7 840.2,1473.8 856.6,1472.9 873.1,1472.6 889.5,1471.7 905.9,1471.1 922.4,1470.8 938.8,1470.2 955.3,1470.2"/>
<polyline class="c" stroke="#FFA500" points="568.9,1628.1 577.1,1586.6 585.3,1584.3 593.5,1579.1 601.7,1570.8 610.0,1555.2 618.2,1552.7 626.4,1541.8 634.6,1536.8 642.8,1533.4 659.3,1519.1 675.7,1512.3 692.2,1507.4 708.6,1504.9 725.1,1501.0 741.5,1501.0 758.0,1502.5 774.4,1503.1 790.8,1504.6 807.3,1503.7 823.7,1501.9 840.2,1499.7 856.6,1500.3 873.1,1500.0 889.5,1499.4 905.9,1497.6 922.4,1495.8 938.8,1494.0 955.3,1493.7"/>
<polyline class="c d" stroke="#FFA500" points="568.9,1577.5 577.1,1536.1 585.3,1514.2 593.5,1499.1 601.7,1493.9 610.0,1488.6 618.2,1481.8 626.4,1481.8 634.6,1481.1 642.8,1478.0 659.3,1476.5 675.7,1474.6 692.2,1475.0 708.6,1473.5 725.1,1471.4 741.5,1471.4 758.0,1471.4 774.4,1472.0 790.8,1472.9 807.3,1472.3 823.7,1471.4 840.2,1470.2 856.6,1469.9 873.1,1469.9 889.5,1468.1 905.9,1467.2 922.4,1466.6 938.8,1466.3 955.3,1466.3"/>
</g>
<text class="t" x="570.9" y="1704.5" text-anchor="middle">5</text>
<text class="t" x="642.8" y="1700.9" text-anchor="middle">50</text>
<text class="t" x="725.1" y="1700.9" text-anchor="middle">100</text>
<text class="t" x="807.3" y="1700.9" text-anchor="middle">150</text>
<text class="t" x="889.5" y="1700.9" text-anchor="middle">200</text>
<text class="t" x="567.4" y="1429.8" text-anchor="end">1</text>
<text class="t" x="567.4" y="1507.4" text-anchor="end">0.95</text>
<text class="t" x="567.4" y="1585.1" text-anchor="end">0.9</text>
<text class="t" x="567.4" y="1662.8" text-anchor="end">0.85</text>
<text class="h" x="762.0" y="1419.5" text-anchor="middle">zipper</text>
<text class="a" x="762.0" y="1729.2" text-anchor="middle">sample size</text>
<text class="a" transform="translate(515.4,1556.6) rotate(-90)" text-anchor="middle">AUC</text>
</g>
<g>
<clipPath id="p14"><rect x="1044.8" y="1425.3" width="387.2" height="262.6"/></clipPath>
<rect x="1044.8" y="1425.3" width="387.2" height="262.6" fill="#E5ECF6"/>
<line class="g" x1="1130.3" y1="1425.3" x2="1130.3" y2="1687.9"/>
<line class="g" x1="1225.1" y1="1425.3" x2="1225.1" y2="1687.9"/>
<line class="g" x1="1319.8" y1="1425.3" x2="1319.8" y2="1687.9"/>
<line class="g" x1="1414.6" y1="1425.3" x2="1414.6" y2="1687.9"/>
<line class="g" x1="1044.8" y1="1482.3" x2="1432.0" y2="1482.3"/>
<line class="g" x1="1044.8" y1="1539.5" x2="1432.0" y2="1539.5"/>
<line class="g" x1="1044.8" y1="1596.4" x2="1432.0" y2="1596.4"/>
<line class="g" x1="1044.8" y1="1653.3" x2="1432.0" y2="1653.3"/>
<g clip-path="url(#p14)">
<polyline class="c" stroke="#0000CD" points="1045.0,1519.5 1054.5,1506.7 1064.0,1515.7 1073.4,1512.0 1082.9,1512.0 1092.4,1517.7 1101.9,1517.7 1111.3,1513.2 1120.8,1512.0 1130.3,1502.2 1149.2,1502.2 1168.2,1499.5 1187.2,1490.4 1206.1,1480.3 1225.1,1472.3 1244.0,1469.3 1263.0,1465.7 1281.9,1463.9 1300.9,1466.6 1319.8,1466.6 1338.8,1467.5 1357.7,1459.7 1376.7,1459.7 1395.6,1454.3 1414.6,1452.5 1431.6,1447.6"/>
<polyline class="c d" stroke="#0000CD" points="1045.0,1527.8 1054.5,1502.2 1064.0,1510.2 1073.4,1505.2 1082.9,1502.2 1092.4,1494.6 1101.9,1493.6 1111.3,1492.4 1120.8,1494.9 1130.3,1485.9 1149.2,1484.1 1168.2,1478.0 1187.2,1469.4 1206.1,1467.5 1225.1,1461.8 1244.0,1460.3 1263.0,1455.8 1281.9,1454.3 1300.9,1458.2 1319.8,1455.8 1338.8,1455.5 1357.7,1451.9 1376.7,1462.1 1395.6,1459.1 1414.6,1458.2 1431.6,1456.7"/>
<polyline class="c" stroke="#00C99B" points="1045.0,1872.3 1054.5,1781.8 1064.0,1685.3 1073.4,1640.1 1082.9,1536.1 1092.4,1507.4 1101.9,1479.6 1111.3,1476.1 1120.8,1469.0 1130.3,1458.7 1149.2,1466.0 1168.2,1463.7 1187.2,1461.9 1206.1,1456.9 1225.1,1465.1 1244.0,1519.9 1263.0,1468.7 1281.9,1434.4 1300.9,1431.7 1319.8,1429.6 1338.8,1427.8 1357.7,1426.9 1376.7,1426.6 1395.6,1426.0 1414.6,1425.3 1431.6,1425.3"/>
<polyline class="c d" stroke="#00C99B" points="1045.0,1634.1 1054.5,1729.1 1064.0,1448.6 1073.4,1437.3 1082.9,1662.7 1092.4,1426.8 1101.9,1426.8 1111.3,1466.7 1120.8,1435.1 1130.3,1428.3 1149.2,1425.3 1168.2,1425.3 1187.2,1425.3 1206.1,1425.3 1225.1,1425.3 1244.0,1425.3 1263.0,1425.3 1281.9,1425.3 1300.9,1425.3 1319.8,1425.3 1338.8,1425.3 1357.7,1425.3 1376.7,1425.3 1395.6,1425.3 1414.6,1425.3 1431.6,1425.3"/>
<polyline class="c" stroke="#CC0000" points="1045.0,1511.2 1054.5,1479.6 1064.0,1463.0 1073.4,1450.6 1082.9,1450.6 1092.4,1443.4 1101.9,1446.1 1111.3,1442.6 1120.8,1442.6 1130.3,1438.8 1149.2,1435.8 1168.2,1430.6 1187.2,1429.5 1206.1,1428.3 1225.1,1428.1 1244.0,1428.7 1263.0,1427.5 1281.9,1427.2 1300.9,1426.9 1319.8,1426.6 1338.8,1426.3 1357.7,1426.0 1376.7,1425.3 1395.6,1425.3 1414.6,1425.3 1431.6,1425.3"/>
<polyline class="c d" stroke="#CC0000" points="1045.0,1486.3 1054.5,1453.5 1064.0,1447.1 1073.4,1445.6 1082.9,1436.6 1092.4,1432.4 1101.9,1427.2 1111.3,1425.3 1120.8,1425.3 1130.3,1425.3 1149.2,1425.3 1168.2,1425.3 1187.2,1425.3 1206.1,1425.3 1225.1,1425.3 1244.0,1425.3 1263.0,1425.3 1281.9,1425.3 1300.9,1425.3 1319.8,1425.3 1338.8,1425.3 1357.7,1425.3 1376.7,1425.3 1395.6,1425.3 1414.6,1425.3 1431.6,1425.3"/>
<polyline class="c" stroke="#FFA500" points="1045.0,1657.9 1054.5,1720.8 1064.0,1663.9 1073.4,1658.7 1082.9,1581.3 1092.4,1554.6 1101.9,1544.4 1111.3,1524.5 1120.8,1526.7 1130.3,1516.5 1149.2,1496.4 1168.2,1476.8 1187.2,1482.1 1206.1,1478.8 1225.1,1477.5 1244.0,1471.4 1263.0,1469.6 1281.9,1462.7 1300.9,1463.3 1319.8,1457.6 1338.8,1456.7 1357.7,1455.8 1376.7,1455.8 1395.6,1456.4 1414.6,1457.0 1431.6,1457.0"/>
<polyline class="c d" stroke="#FFA500" points="1045.0,1515.0 1054.5,1524.8 1064.0,1516.5 1073.4,1490.9 1082.9,1469.8 1092.4,1459.2 1101.9,1456.2 1111.3,1453.2 1120.8,1447.9 1130.3,1447.6 1149.2,1441.1 1168.2,1437.3 1187.2,1435.1 1206.1,1431.3 1225.1,1430.8 1244.0,1430.5 1263.0,1428.1 1281.9,1427.5 1300.9,1427.2 1319.8,1426.6 1338.8,1426.0 1357.7,1425.3 1376.7,1425.3 1395.6,1425.3 1414.6,1425.3 1431.6,1425.3"/>
</g>
<text class="t" x="1047.0" y="1704.5" text-anchor="middle">5</text>
<text class="t" x="1130.3" y="1700.9" text-anchor="middle">50</text>
<text class="t" x="1225.1" y="1700.9" text-anchor="middle">100</text>
<text class="t" x="1319.8" y="1700.9" text-anchor="middle">150</text>
<text class="t" x="1414.6" y="1700.9" text-anchor="middle">200</text>
<text class="t" x="1043.8" y="1429.8" text-anchor="end">1</text>
<text class="t" x="1043.8" y="1486.6" text-anchor="end">0.99</text>
<text class="t" x="1043.8" y="1543.8" text-anchor="end">0.98</text>
<text class="t" x="1043.8" y="1600.7" text-anchor="end">0.97</text>
<text class="t" x="1043.8" y="1657.6" text-anchor="end">0.96</text>
<text class="h" x="1238.4" y="1419.5" text-anchor="middle">bottle</text>
<text class="a" x="1238.4" y="1729.2" text-anchor="middle">sample size</text>
<text class="a" transform="translate(991.8,1556.6) rotate(-90)" text-anchor="middle">AUC</text>
</g>
<g>
<line x1="86.5" y1="1762.7" x2="120.8" y2="1762.7" stroke="#0000CD" stroke-width="2.29"/>
<line x1="86.5" y1="1784.8" x2="120.8" y2="1784.8" stroke="#0000CD" stroke-width="2.29" stroke-dasharray="3.43 3.43"/>
<text class="l" x="126.6" y="1767.3">KNN</text>
<text class="l" x="126.6" y="1789.8">KNN, data augmentation x10</text>
<line x1="367.7" y1="1763.9" x2="402.0" y2="1763.9" stroke="#00C99B" stroke-width="2.29"/>
<line x1="367.7" y1="1786.0" x2="402.0" y2="1786.0" stroke="#00C99B" stroke-width="2.29" stroke-dasharray="3.43 3.43"/>
<text class="l" x="407.8" y="1768.7">Mahalanobis (Empirical)</text>
<text class="l" x="407.8" y="1790.8">Mahalanobis (Empirical), data augmentation x10</text>
<line x1="777.8" y1="1763.9" x2="812.1" y2="1763.9" stroke="#CC0000" stroke-width="2.29"/>
<line x1="777.8" y1="1786.0" x2="812.1" y2="1786.0" stroke="#CC0000" stroke-width="2.29" stroke-dasharray="3.43 3.43"/>
<text class="l" x="817.8" y="1768.7">Mahalanobis (Ledoit)</text>
<text class="l" x="817.8" y="1790.8">Mahalanobis (Ledoit), data augmentation x10</text>
<line x1="1171.2" y1="1763.9" x2="1205.5" y2="1763.9" stroke="#FFA500" stroke-width="2.29"/>
<line x1="1171.2" y1="1786.0" x2="1205.5" y2="1786.0" stroke="#FFA500" stroke-width="2.29" stroke-dasharray="3.43 3.43"/>
<text class="l" x="1211.1" y="1768.7">PaDiM</text>
<text class="l" x="1211.1" y="1790.8">PaDiM, data augmentation x10</text>
<circle cx="767.4" cy="1786.0" r="0.9" fill="#0000CD"/>
</g>
</svg>
</body></html>
